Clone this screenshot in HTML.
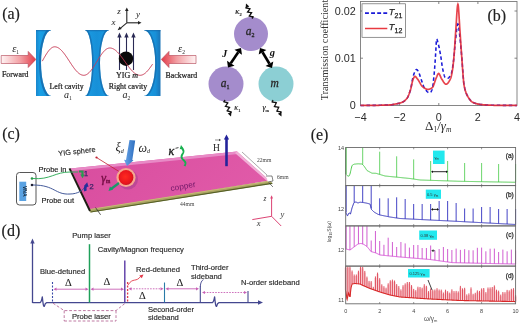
<!DOCTYPE html>
<html><head><meta charset="utf-8"><title>Figure</title>
<style>html,body{margin:0;padding:0;background:#fff;width:520px;height:323px;overflow:hidden} svg{display:block}</style>
</head><body>
<svg width="520" height="323" viewBox="0 0 520 323"><defs>
<linearGradient id="mir" x1="0" y1="0" x2="1" y2="0">
 <stop offset="0" stop-color="#1a9ce4"/><stop offset="0.5" stop-color="#1790d8"/><stop offset="1" stop-color="#1a9ce4"/>
</linearGradient>
<linearGradient id="mirL" x1="0" y1="0" x2="1" y2="0">
 <stop offset="0" stop-color="#1a86cc"/><stop offset="0.25" stop-color="#19a0e6"/><stop offset="1" stop-color="#1890d8"/>
</linearGradient>
<linearGradient id="mirR" x1="0" y1="0" x2="1" y2="0">
 <stop offset="0" stop-color="#19a0e6"/><stop offset="0.7" stop-color="#1890d8"/><stop offset="1" stop-color="#1a74b8"/>
</linearGradient>
<linearGradient id="arrR" x1="0" y1="0" x2="1" y2="0">
 <stop offset="0" stop-color="#fff4f4"/><stop offset="0.55" stop-color="#f2a0a4"/><stop offset="1" stop-color="#e23a48"/>
</linearGradient>
<linearGradient id="arrL" x1="1" y1="0" x2="0" y2="0">
 <stop offset="0" stop-color="#fff4f4"/><stop offset="0.55" stop-color="#f2a0a4"/><stop offset="1" stop-color="#e23a48"/>
</linearGradient>
<linearGradient id="plate" x1="0" y1="0" x2="1" y2="0.3">
 <stop offset="0" stop-color="#d84c9e"/><stop offset="1" stop-color="#e05aa8"/>
</linearGradient>
<radialGradient id="ball" cx="0.45" cy="0.45" r="0.6">
 <stop offset="0" stop-color="#ff2a20"/><stop offset="0.75" stop-color="#e8141c"/><stop offset="1" stop-color="#c01020"/>
</radialGradient>
<linearGradient id="pump" x1="0" y1="0" x2="1" y2="0">
 <stop offset="0" stop-color="#6aa6e8"/><stop offset="1" stop-color="#2e6fc0"/>
</linearGradient>
<clipPath id="cm1"><path d="M36,30 L51.4,30 A10.4 33 0 0 0 51.4,96 L36,96 Z"/></clipPath><clipPath id="cm2"><path d="M84.8,30 L109.2,30 A9.2 33 0 0 0 109.2,96 L84.8,96 A7.3 33 0 0 0 84.8,30 Z"/></clipPath><clipPath id="cm3"><path d="M143.7,30 L160.5,30 L160.5,96 L143.7,96 A11.5 33 0 0 0 143.7,30 Z"/></clipPath></defs><rect width="520" height="323" fill="#fff"/><text x="2.2" y="19.1" style="font-family:'Liberation Serif',serif;font-size:16px;fill:#222;stroke:#111;stroke-width:0.15" text-anchor="start">(a)</text>
<path d="M36,30 L51.4,30 A10.4 33 0 0 0 51.4,96 L36,96 Z" fill="url(#mirL)"/>
<g clip-path="url(#cm1)" fill="none" stroke="#1766a6"><path d="M51.4,30 A10.4 33 0 0 0 51.4,96" stroke-width="4" opacity="0.75"/><line x1="36" y1="30.6" x2="52" y2="30.6" stroke-width="1.4" opacity="0.6"/></g>
<path d="M84.8,30 L109.2,30 A9.2 33 0 0 0 109.2,96 L84.8,96 A7.3 33 0 0 0 84.8,30 Z" fill="url(#mir)"/>
<g clip-path="url(#cm2)" fill="none" stroke="#1766a6"><path d="M109.2,30 A9.2 33 0 0 0 109.2,96" stroke-width="3" opacity="0.7"/><path d="M84.8,96 A7.3 33 0 0 0 84.8,30" stroke-width="3" opacity="0.7"/><line x1="84" y1="30.6" x2="110" y2="30.6" stroke-width="1.4" opacity="0.6"/></g>
<path d="M143.7,30 L160.5,30 L160.5,96 L143.7,96 A11.5 33 0 0 0 143.7,30 Z" fill="url(#mirR)"/>
<g clip-path="url(#cm3)" fill="none" stroke="#1766a6"><path d="M143.7,96 A11.5 33 0 0 0 143.7,30" stroke-width="3" opacity="0.7"/><line x1="143" y1="30.6" x2="161" y2="30.6" stroke-width="1.4" opacity="0.6"/></g>
<path d="M1.2,55.5 L28.2,55.5 L28.2,51.4 L35.9,59.4 L28.2,67.5 L28.2,63.5 L1.2,63.5 Z" fill="url(#arrR)" stroke="#b04050" stroke-width="0.6"/>
<path d="M196,55.5 L169,55.5 L169,51.4 L161.3,59.4 L169,67.5 L169,63.5 L196,63.5 Z" fill="url(#arrL)" stroke="#b04050" stroke-width="0.6"/>
<text x="12.2" y="52.2" style="font-family:'Liberation Serif',serif;font-size:10.5px;fill:#222;" text-anchor="start"><tspan font-style="italic">ε</tspan><tspan font-size="5.5" dy="1.5">1</tspan></text>
<text x="178" y="52.2" style="font-family:'Liberation Serif',serif;font-size:10.5px;fill:#222;" text-anchor="start"><tspan font-style="italic">ε</tspan><tspan font-size="5.5" dy="1.5">2</tspan></text>
<text x="2" y="77" style="font-family:'Liberation Serif',serif;font-size:7.8px;fill:#222;stroke:#222;stroke-width:0.22" text-anchor="start">Forward</text>
<text x="165.6" y="78.4" style="font-family:'Liberation Serif',serif;font-size:7.8px;fill:#222;stroke:#222;stroke-width:0.22" text-anchor="start">Backward</text>
<text x="49.6" y="89.2" style="font-family:'Liberation Serif',serif;font-size:7.8px;fill:#222;stroke:#222;stroke-width:0.22" text-anchor="start">Left cavity</text>
<text x="64" y="98" style="font-family:'Liberation Serif',serif;font-size:10px;fill:#222;" text-anchor="start"><tspan font-style="italic">a</tspan><tspan font-size="5.5" dy="1.8">1</tspan></text>
<text x="108.8" y="88.9" style="font-family:'Liberation Serif',serif;font-size:7.8px;fill:#222;stroke:#222;stroke-width:0.22" text-anchor="start">Right cavity</text>
<text x="122.5" y="97.7" style="font-family:'Liberation Serif',serif;font-size:10px;fill:#222;" text-anchor="start"><tspan font-style="italic">a</tspan><tspan font-size="5.5" dy="1.8">2</tspan></text>
<line x1="119.5" y1="36" x2="119.5" y2="70" stroke="#2a2a55" stroke-width="1.1"/>
<path d="M117.3,37.5 L119.5,32.5 L121.7,37.5 Z" fill="#2a2a55"/>
<line x1="126.5" y1="36" x2="126.5" y2="70" stroke="#2a2a55" stroke-width="1.1"/>
<path d="M124.3,37.5 L126.5,32.5 L128.7,37.5 Z" fill="#2a2a55"/>
<line x1="133.5" y1="36" x2="133.5" y2="70" stroke="#2a2a55" stroke-width="1.1"/>
<path d="M131.3,37.5 L133.5,32.5 L135.7,37.5 Z" fill="#2a2a55"/>
<circle cx="126" cy="58.7" r="7.2" fill="#0a0a0a"/>
<path d="M42.30,61.14 L42.80,60.23 L43.31,59.32 L43.81,58.42 L44.31,57.53 L44.82,56.65 L45.32,55.80 L45.82,54.96 L46.33,54.15 L46.83,53.36 L47.33,52.61 L47.84,51.90 L48.34,51.22 L48.84,50.58 L49.34,49.98 L49.85,49.43 L50.35,48.92 L50.85,48.47 L51.36,48.07 L51.86,47.72 L52.36,47.42 L52.87,47.19 L53.37,47.00 L53.87,46.88 L54.38,46.81 L54.88,46.80 L55.38,46.84 L55.89,46.92 L56.39,47.04 L56.89,47.20 L57.40,47.40 L57.90,47.64 L58.40,47.92 L58.91,48.24 L59.41,48.60 L59.91,49.00 L60.42,49.43 L60.92,49.89 L61.42,50.39 L61.92,50.92 L62.43,51.48 L62.93,52.07 L63.43,52.68 L63.94,53.32 L64.44,53.98 L64.94,54.66 L65.45,55.36 L65.95,56.08 L66.45,56.81 L66.96,57.56 L67.46,58.31 L67.96,59.08 L68.47,59.85 L68.97,60.62 L69.47,61.39 L69.98,62.17 L70.48,62.94 L70.98,63.70 L71.49,64.46 L71.99,65.20 L72.49,65.94 L72.99,66.66 L73.50,67.36 L74.00,68.04 L74.50,68.71 L75.01,69.35 L75.51,69.97 L76.01,70.56 L76.52,71.12 L77.02,71.65 L77.52,72.15 L78.03,72.62 L78.53,73.06 L79.03,73.45 L79.54,73.82 L80.04,74.14 L80.54,74.43 L81.05,74.67 L81.55,74.88 L82.05,75.05 L82.56,75.17 L83.06,75.25 L83.56,75.30 L84.07,75.29 L84.57,75.24 L85.07,75.14 L85.57,74.99 L86.08,74.79 L86.58,74.54 L87.08,74.24 L87.59,73.90 L88.09,73.51 L88.59,73.07 L89.10,72.60 L89.60,72.08 L90.10,71.53 L90.61,70.94 L91.11,70.31 L91.61,69.66 L92.12,68.97 L92.62,68.26 L93.12,67.52 L93.63,66.76 L94.13,65.98 L94.63,65.18 L95.14,64.38 L95.64,63.56 L96.14,62.73 L96.65,61.91 L97.15,61.08 L97.65,60.25 L98.15,59.43 L98.66,58.61 L99.16,57.81 L99.66,57.02 L100.17,56.25 L100.67,55.50 L101.17,54.77 L101.68,54.06 L102.18,53.39 L102.68,52.74 L103.19,52.13 L103.69,51.55 L104.19,51.01 L104.70,50.51 L105.20,50.06 L105.70,49.64 L106.21,49.27 L106.71,48.94 L107.21,48.66 L107.72,48.43 L108.22,48.25 L108.72,48.12 L109.23,48.03 L109.73,48.00 L110.23,48.01 L110.73,48.06 L111.24,48.15 L111.74,48.28 L112.24,48.44 L112.75,48.63 L113.25,48.86 L113.75,49.13 L114.26,49.43 L114.76,49.77 L115.26,50.13 L115.77,50.53 L116.27,50.96 L116.77,51.41 L117.28,51.90 L117.78,52.41 L118.28,52.95 L118.79,53.51 L119.29,54.09 L119.79,54.69 L120.30,55.32 L120.80,55.95 L121.30,56.61 L121.81,57.28 L122.31,57.96 L122.81,58.65 L123.31,59.35 L123.82,60.05 L124.32,60.76 L124.82,61.47 L125.33,62.18 L125.83,62.89 L126.33,63.60 L126.84,64.30 L127.34,65.00 L127.84,65.68 L128.35,66.36 L128.85,67.02 L129.35,67.67 L129.86,68.30 L130.36,68.91 L130.86,69.50 L131.37,70.08 L131.87,70.62 L132.37,71.15 L132.88,71.65 L133.38,72.12 L133.88,72.56 L134.38,72.97 L134.89,73.36 L135.39,73.71 L135.89,74.02 L136.40,74.31 L136.90,74.56 L137.40,74.77 L137.91,74.95 L138.41,75.09 L138.91,75.20 L139.42,75.27 L139.92,75.30 L140.42,75.29 L140.93,75.24 L141.43,75.15 L141.93,75.02 L142.44,74.84 L142.94,74.62 L143.44,74.36 L143.95,74.07 L144.45,73.73 L144.95,73.35 L145.46,72.94 L145.96,72.49 L146.46,72.01 L146.96,71.50 L147.47,70.95 L147.97,70.38 L148.47,69.78 L148.98,69.15 L149.48,68.50 L149.98,67.83 L150.49,67.14 L150.99,66.43 L151.49,65.70 L152.00,64.97 L152.50,64.22" fill="none" stroke="#c83a55" stroke-width="1"/>
<text x="116" y="77.9" style="font-family:'Liberation Serif',serif;font-size:8px;fill:#222;stroke:#222;stroke-width:0.22" text-anchor="start">YIG <tspan font-style="italic">m</tspan></text>
<g stroke="#222" stroke-width="1.1" fill="none"><line x1="126.8" y1="22.8" x2="126.8" y2="10"/><line x1="126.8" y1="22.8" x2="139" y2="22.8"/><line x1="126.8" y1="22.8" x2="120" y2="28.6"/></g>
<g fill="#222"><path d="M125,11 L126.8,7.5 L128.6,11 Z"/><path d="M138,21 L141.5,22.8 L138,24.6 Z"/><path d="M119.6,26.6 L117.6,30.3 L121.7,29 Z"/></g>
<text x="117.3" y="13.5" style="font-family:'Liberation Serif',serif;font-size:9px;fill:#222;font-style:italic" text-anchor="start">z</text>
<text x="136" y="16.5" style="font-family:'Liberation Serif',serif;font-size:9px;fill:#222;font-style:italic" text-anchor="start">y</text>
<text x="111.5" y="24.5" style="font-family:'Liberation Serif',serif;font-size:9px;fill:#222;font-style:italic" text-anchor="start">x</text>
<circle cx="251" cy="34" r="17" fill="#a48ccc"/>
<circle cx="226" cy="84" r="17.5" fill="#a48ccc"/>
<circle cx="276" cy="84" r="17.5" fill="#8ccfd4"/>
<text x="245.8" y="35.3" style="font-family:'Liberation Serif',serif;font-size:11.5px;fill:#2a2a2a;stroke:#2a2a2a;stroke-width:0.3" text-anchor="start"><tspan font-style="italic">a</tspan><tspan font-size="6" dy="2">2</tspan></text>
<text x="220.8" y="86.8" style="font-family:'Liberation Serif',serif;font-size:11.5px;fill:#2a2a2a;stroke:#2a2a2a;stroke-width:0.3" text-anchor="start"><tspan font-style="italic">a</tspan><tspan font-size="6" dy="2">1</tspan></text>
<text x="270.5" y="86.8" style="font-family:'Liberation Serif',serif;font-size:11.5px;fill:#2a2a2a;stroke:#2a2a2a;stroke-width:0.3" text-anchor="start"><tspan font-style="italic">m</tspan></text>
<line x1="238.23" y1="52.16" x2="230.77" y2="63.34" stroke="#000" stroke-width="2.6"/><path d="M241.00,48.00 L234.48,49.66 L241.97,54.66 Z" fill="#000"/><path d="M228.00,67.50 L227.03,60.84 L234.52,65.84 Z" fill="#000"/>
<line x1="262.57" y1="52.29" x2="269.43" y2="63.71" stroke="#000" stroke-width="2.6"/><path d="M260.00,48.00 L258.71,54.60 L266.43,49.97 Z" fill="#000"/><path d="M272.00,68.00 L265.57,66.03 L273.29,61.40 Z" fill="#000"/>
<text x="222" y="57" style="font-family:'Liberation Serif',serif;font-size:10.5px;fill:#111;font-style:italic;font-weight:bold" text-anchor="start">J</text>
<text x="269.8" y="56" style="font-family:'Liberation Serif',serif;font-size:10.5px;fill:#111;font-style:italic;font-weight:bold" text-anchor="start">g</text>
<path d="M252.00,18.50 L252.19,18.24 L252.38,17.99 L252.58,17.73 L252.77,17.48 L252.96,17.22 L253.15,16.96 L253.13,16.79 L252.82,16.74 L252.50,16.69 L252.19,16.63 L251.87,16.58 L251.55,16.53 L251.24,16.47 L250.92,16.42 L250.61,16.37 L250.29,16.31 L249.98,16.26 L249.66,16.21 L249.34,16.15 L249.16,16.05 L249.35,15.79 L249.54,15.54 L249.73,15.28 L249.92,15.03 L250.12,14.77 L250.31,14.51 L250.50,14.26 L250.69,14.00 L250.88,13.75 L251.08,13.49 L251.27,13.23 L251.46,12.98 L251.61,12.74 L251.29,12.68 L250.98,12.63 L250.66,12.58 L250.35,12.53 L250.03,12.47 L249.71,12.42 L249.40,12.37 L249.08,12.31 L248.77,12.26 L248.45,12.21 L248.14,12.15 L247.82,12.10 L247.50,12.05 L247.65,11.81 L247.85,11.55 L248.04,11.30 L248.23,11.04 L248.42,10.78 L248.61,10.53 L248.81,10.27 L249.00,10.02 L249.19,9.76 L249.38,9.50 L249.57,9.25 L249.77,8.99 L249.96,8.73 L249.77,8.63 L249.45,8.58 L249.14,8.52 L248.82,8.47 L248.51,8.42 L248.19,8.37 L247.88,8.31 L247.56,8.26 L247.24,8.21 L246.93,8.15 L246.61,8.10 L246.30,8.05 L245.98,7.99 L245.96,7.82 L246.15,7.57 L246.35,7.31 L246.54,7.05 L246.73,6.80 L246.92,6.54 L247.11,6.29" fill="none" stroke="#111" stroke-width="1.3"/><path d="M246.00,3.50 L249.34,6.47 L245.63,7.96 Z" fill="#111"/>
<path d="M225.00,100.00 L224.81,100.27 L224.61,100.53 L224.42,100.80 L224.22,101.07 L224.03,101.33 L223.84,101.60 L223.86,101.79 L224.18,101.87 L224.50,101.95 L224.82,102.03 L225.14,102.11 L225.46,102.19 L225.78,102.27 L226.10,102.35 L226.42,102.43 L226.74,102.51 L227.06,102.59 L227.38,102.67 L227.70,102.75 L227.89,102.87 L227.69,103.14 L227.50,103.40 L227.30,103.67 L227.11,103.94 L226.92,104.20 L226.72,104.47 L226.53,104.74 L226.33,105.00 L226.14,105.27 L225.95,105.54 L225.75,105.80 L225.56,106.07 L225.41,106.32 L225.73,106.40 L226.05,106.48 L226.37,106.56 L226.69,106.64 L227.01,106.72 L227.33,106.80 L227.65,106.88 L227.97,106.96 L228.29,107.04 L228.61,107.12 L228.93,107.20 L229.25,107.28 L229.57,107.36 L229.42,107.61 L229.22,107.88 L229.03,108.14 L228.83,108.41 L228.64,108.68 L228.45,108.94 L228.25,109.21 L228.06,109.48 L227.86,109.74 L227.67,110.01 L227.48,110.28 L227.28,110.54 L227.09,110.81 L227.28,110.94 L227.60,111.02 L227.92,111.09 L228.24,111.17 L228.56,111.25 L228.88,111.33 L229.20,111.41 L229.52,111.49 L229.84,111.57 L230.16,111.65 L230.48,111.73 L230.80,111.81 L231.12,111.89 L231.14,112.08 L230.94,112.35 L230.75,112.61 L230.56,112.88 L230.36,113.15 L230.17,113.41 L229.97,113.68" fill="none" stroke="#111" stroke-width="1.3"/><path d="M231.00,116.50 L227.75,113.42 L231.51,112.06 Z" fill="#111"/>
<path d="M273.00,100.00 L272.85,100.30 L272.69,100.60 L272.54,100.90 L272.39,101.20 L272.24,101.50 L272.08,101.80 L272.13,102.00 L272.47,102.05 L272.80,102.10 L273.13,102.15 L273.47,102.20 L273.80,102.25 L274.13,102.30 L274.47,102.35 L274.80,102.40 L275.13,102.45 L275.47,102.50 L275.80,102.55 L276.13,102.60 L276.34,102.71 L276.19,103.01 L276.04,103.31 L275.88,103.61 L275.73,103.91 L275.58,104.21 L275.43,104.51 L275.27,104.81 L275.12,105.11 L274.97,105.41 L274.81,105.71 L274.66,106.01 L274.51,106.31 L274.40,106.59 L274.73,106.64 L275.06,106.69 L275.40,106.74 L275.73,106.79 L276.06,106.84 L276.40,106.89 L276.73,106.94 L277.06,106.99 L277.40,107.04 L277.73,107.09 L278.06,107.14 L278.40,107.19 L278.73,107.24 L278.62,107.52 L278.46,107.82 L278.31,108.12 L278.16,108.42 L278.01,108.72 L277.85,109.02 L277.70,109.32 L277.55,109.62 L277.39,109.92 L277.24,110.22 L277.09,110.52 L276.94,110.82 L276.78,111.12 L276.99,111.24 L277.33,111.29 L277.66,111.34 L277.99,111.39 L278.33,111.44 L278.66,111.49 L278.99,111.54 L279.33,111.59 L279.66,111.64 L279.99,111.69 L280.33,111.74 L280.66,111.79 L280.99,111.84 L281.04,112.03 L280.89,112.33 L280.74,112.63 L280.58,112.93 L280.43,113.23 L280.28,113.53 L280.13,113.83" fill="none" stroke="#111" stroke-width="1.3"/><path d="M281.50,116.50 L277.89,113.86 L281.45,112.03 Z" fill="#111"/>
<text x="235.3" y="14.2" style="font-family:'Liberation Serif',serif;font-size:8.5px;fill:#222;stroke:#222;stroke-width:0.2" text-anchor="start"><tspan font-style="italic">κ</tspan><tspan font-size="4.5" dy="2">2</tspan></text>
<text x="234.3" y="110" style="font-family:'Liberation Serif',serif;font-size:8px;fill:#222;stroke:#222;stroke-width:0.15" text-anchor="start"><tspan font-style="italic">κ</tspan><tspan font-size="4.5" dy="1.5">1</tspan></text>
<text x="262.4" y="110" style="font-family:'Liberation Serif',serif;font-size:8px;fill:#222;stroke:#222;stroke-width:0.15" text-anchor="start"><tspan font-style="italic">γ</tspan><tspan font-size="4.5" dy="1.5">m</tspan></text>
<rect x="360.5" y="1.5" width="156.5" height="104.0" fill="none" stroke="#7a7a7a" stroke-width="0.9"/>
<line x1="360.5" y1="58.2" x2="363.0" y2="58.2" stroke="#666" stroke-width="0.8"/><line x1="517" y1="58.2" x2="514.5" y2="58.2" stroke="#666" stroke-width="0.8"/>
<line x1="360.5" y1="11.0" x2="363.0" y2="11.0" stroke="#666" stroke-width="0.8"/><line x1="517" y1="11.0" x2="514.5" y2="11.0" stroke="#666" stroke-width="0.8"/>
<line x1="399.6" y1="1.5" x2="399.6" y2="4.0" stroke="#666" stroke-width="0.8"/><line x1="399.6" y1="105.5" x2="399.6" y2="103.0" stroke="#666" stroke-width="0.8"/>
<line x1="438.8" y1="1.5" x2="438.8" y2="4.0" stroke="#666" stroke-width="0.8"/><line x1="438.8" y1="105.5" x2="438.8" y2="103.0" stroke="#666" stroke-width="0.8"/>
<line x1="477.9" y1="1.5" x2="477.9" y2="4.0" stroke="#666" stroke-width="0.8"/><line x1="477.9" y1="105.5" x2="477.9" y2="103.0" stroke="#666" stroke-width="0.8"/>
<path d="M360.50,105.40 L360.72,105.40 L360.95,105.40 L361.17,105.40 L361.40,105.40 L361.62,105.40 L361.84,105.40 L362.07,105.40 L362.29,105.40 L362.52,105.40 L362.74,105.40 L362.96,105.40 L363.19,105.40 L363.41,105.40 L363.63,105.40 L363.86,105.40 L364.08,105.40 L364.31,105.40 L364.53,105.40 L364.75,105.40 L364.98,105.39 L365.20,105.39 L365.43,105.39 L365.65,105.39 L365.87,105.39 L366.10,105.39 L366.32,105.39 L366.55,105.39 L366.77,105.39 L366.99,105.39 L367.22,105.39 L367.44,105.39 L367.66,105.39 L367.89,105.39 L368.11,105.39 L368.34,105.38 L368.56,105.38 L368.78,105.38 L369.01,105.38 L369.23,105.38 L369.46,105.38 L369.68,105.38 L369.90,105.38 L370.13,105.38 L370.35,105.38 L370.58,105.37 L370.80,105.37 L371.02,105.37 L371.25,105.37 L371.47,105.37 L371.69,105.37 L371.92,105.37 L372.14,105.37 L372.37,105.37 L372.59,105.36 L372.81,105.36 L373.04,105.36 L373.26,105.36 L373.49,105.36 L373.71,105.36 L373.93,105.36 L374.16,105.36 L374.38,105.35 L374.61,105.35 L374.83,105.35 L375.05,105.35 L375.28,105.35 L375.50,105.35 L375.72,105.34 L375.95,105.34 L376.17,105.34 L376.40,105.34 L376.62,105.33 L376.84,105.33 L377.07,105.32 L377.29,105.32 L377.52,105.32 L377.74,105.31 L377.96,105.31 L378.19,105.30 L378.41,105.30 L378.64,105.29 L378.86,105.29 L379.08,105.28 L379.31,105.28 L379.53,105.27 L379.75,105.26 L379.98,105.26 L380.20,105.25 L380.43,105.24 L380.65,105.24 L380.87,105.23 L381.10,105.22 L381.32,105.22 L381.55,105.21 L381.77,105.20 L381.99,105.20 L382.22,105.19 L382.44,105.18 L382.67,105.18 L382.89,105.17 L383.11,105.16 L383.34,105.15 L383.56,105.15 L383.78,105.14 L384.01,105.13 L384.23,105.12 L384.46,105.12 L384.68,105.11 L384.90,105.10 L385.13,105.10 L385.35,105.09 L385.58,105.08 L385.80,105.08 L386.02,105.07 L386.25,105.06 L386.47,105.05 L386.70,105.05 L386.92,105.04 L387.14,105.03 L387.37,105.03 L387.59,105.02 L387.81,105.01 L388.04,105.00 L388.26,104.99 L388.49,104.98 L388.71,104.97 L388.93,104.96 L389.16,104.95 L389.38,104.94 L389.61,104.92 L389.83,104.91 L390.05,104.90 L390.28,104.88 L390.50,104.86 L390.73,104.84 L390.95,104.81 L391.17,104.78 L391.40,104.76 L391.62,104.72 L391.84,104.69 L392.07,104.65 L392.29,104.62 L392.52,104.58 L392.74,104.54 L392.96,104.50 L393.19,104.45 L393.41,104.41 L393.64,104.37 L393.86,104.32 L394.08,104.28 L394.31,104.24 L394.53,104.19 L394.76,104.15 L394.98,104.10 L395.20,104.06 L395.43,104.02 L395.65,103.98 L395.87,103.93 L396.10,103.89 L396.32,103.85 L396.55,103.81 L396.77,103.77 L396.99,103.72 L397.22,103.68 L397.44,103.63 L397.67,103.59 L397.89,103.54 L398.11,103.49 L398.34,103.45 L398.56,103.40 L398.79,103.34 L399.01,103.29 L399.23,103.24 L399.46,103.18 L399.68,103.12 L399.90,103.06 L400.13,102.99 L400.35,102.93 L400.58,102.86 L400.80,102.79 L401.02,102.72 L401.25,102.64 L401.47,102.56 L401.70,102.48 L401.92,102.39 L402.14,102.30 L402.37,102.20 L402.59,102.09 L402.82,101.98 L403.04,101.85 L403.26,101.72 L403.49,101.58 L403.71,101.43 L403.93,101.27 L404.16,101.10 L404.38,100.93 L404.61,100.74 L404.83,100.55 L405.05,100.35 L405.28,100.14 L405.50,99.92 L405.73,99.69 L405.95,99.46 L406.17,99.21 L406.40,98.96 L406.62,98.69 L406.85,98.42 L407.07,98.14 L407.29,97.84 L407.52,97.50 L407.74,97.12 L407.96,96.70 L408.19,96.25 L408.41,95.76 L408.64,95.24 L408.86,94.68 L409.08,94.10 L409.31,93.48 L409.53,92.84 L409.76,92.16 L409.98,91.47 L410.20,90.74 L410.43,89.99 L410.65,89.21 L410.88,88.29 L411.10,87.20 L411.32,86.00 L411.55,84.71 L411.77,83.40 L411.99,82.10 L412.22,80.86 L412.44,79.72 L412.67,78.71 L412.89,77.75 L413.11,76.81 L413.34,75.92 L413.56,75.10 L413.79,74.37 L414.01,73.78 L414.23,73.24 L414.46,72.71 L414.68,72.19 L414.91,71.68 L415.13,71.21 L415.35,70.78 L415.58,70.39 L415.80,70.06 L416.03,69.80 L416.25,69.62 L416.47,69.52 L416.70,69.51 L416.92,69.60 L417.14,69.77 L417.37,70.01 L417.59,70.32 L417.82,70.68 L418.04,71.08 L418.26,71.51 L418.49,71.96 L418.71,72.42 L418.94,72.87 L419.16,73.34 L419.38,73.91 L419.61,74.56 L419.83,75.26 L420.06,76.00 L420.28,76.75 L420.50,77.49 L420.73,78.21 L420.95,78.86 L421.17,79.48 L421.40,80.10 L421.62,80.73 L421.85,81.37 L422.07,82.01 L422.29,82.64 L422.52,83.27 L422.74,83.90 L422.97,84.51 L423.19,85.11 L423.41,85.69 L423.64,86.25 L423.86,86.78 L424.09,87.29 L424.31,87.76 L424.53,88.20 L424.76,88.60 L424.98,88.96 L425.20,89.28 L425.43,89.56 L425.65,89.83 L425.88,90.10 L426.10,90.36 L426.32,90.62 L426.55,90.88 L426.77,91.12 L427.00,91.36 L427.22,91.59 L427.44,91.80 L427.67,92.00 L427.89,92.18 L428.12,92.35 L428.34,92.49 L428.56,92.62 L428.79,92.72 L429.01,92.81 L429.23,92.86 L429.46,92.89 L429.68,92.90 L429.91,92.84 L430.13,92.73 L430.35,92.56 L430.58,92.34 L430.80,92.06 L431.03,91.74 L431.25,91.38 L431.47,90.97 L431.70,90.52 L431.92,90.04 L432.15,89.53 L432.37,88.87 L432.59,87.79 L432.82,86.37 L433.04,84.65 L433.26,82.71 L433.49,80.62 L433.71,78.43 L433.94,76.22 L434.16,73.95 L434.38,71.39 L434.61,68.57 L434.83,65.55 L435.06,62.39 L435.28,59.14 L435.50,55.86 L435.73,52.59 L435.95,48.45 L436.18,43.88 L436.40,40.28 L436.62,39.00 L436.85,39.17 L437.07,39.60 L437.29,40.21 L437.52,40.97 L437.74,41.82 L437.97,42.71 L438.19,43.59 L438.41,44.42 L438.64,45.31 L438.86,46.26 L439.09,47.27 L439.31,48.33 L439.53,49.44 L439.76,50.59 L439.98,51.79 L440.21,53.02 L440.43,54.28 L440.65,55.56 L440.88,56.87 L441.10,58.27 L441.32,59.87 L441.55,61.56 L441.77,63.28 L442.00,64.94 L442.22,66.45 L442.44,67.73 L442.67,68.80 L442.89,69.85 L443.12,70.90 L443.34,71.91 L443.56,72.88 L443.79,73.79 L444.01,74.63 L444.24,75.38 L444.46,76.04 L444.68,76.57 L444.91,76.98 L445.13,77.25 L445.35,77.39 L445.58,77.52 L445.80,77.65 L446.03,77.76 L446.25,77.86 L446.47,77.94 L446.70,78.02 L446.92,78.08 L447.15,78.13 L447.37,78.17 L447.59,78.19 L447.82,78.20 L448.04,78.17 L448.27,78.10 L448.49,77.97 L448.71,77.81 L448.94,77.61 L449.16,77.36 L449.38,77.09 L449.61,76.77 L449.83,76.43 L450.06,76.06 L450.28,75.66 L450.50,75.24 L450.73,74.80 L450.95,74.33 L451.18,73.85 L451.40,73.28 L451.62,72.51 L451.85,71.56 L452.07,70.45 L452.30,69.20 L452.52,67.84 L452.74,66.38 L452.97,64.84 L453.19,63.25 L453.41,61.62 L453.64,59.90 L453.86,57.84 L454.09,55.49 L454.31,52.95 L454.53,50.31 L454.76,47.67 L454.98,45.10 L455.21,42.71 L455.43,40.59 L455.65,38.71 L455.88,36.73 L456.10,34.71 L456.33,32.71 L456.55,30.77 L456.77,28.96 L457.00,27.35 L457.22,25.99 L457.44,24.93 L457.67,24.25 L457.89,24.00 L458.12,24.24 L458.34,24.95 L458.56,26.06 L458.79,27.51 L459.01,29.22 L459.24,31.13 L459.46,33.17 L459.68,35.28 L459.91,37.38 L460.13,39.41 L460.36,41.40 L460.58,43.60 L460.80,45.97 L461.03,48.47 L461.25,51.02 L461.47,53.59 L461.70,56.14 L461.92,58.92 L462.15,61.92 L462.37,65.06 L462.59,68.25 L462.82,71.43 L463.04,74.51 L463.27,77.42 L463.49,80.08 L463.71,82.42 L463.94,84.35 L464.16,85.81 L464.39,86.88 L464.61,87.87 L464.83,88.79 L465.06,89.66 L465.28,90.46 L465.51,91.20 L465.73,91.89 L465.95,92.53 L466.18,93.13 L466.40,93.68 L466.62,94.20 L466.85,94.69 L467.07,95.14 L467.30,95.58 L467.52,95.98 L467.74,96.38 L467.97,96.76 L468.19,97.13 L468.42,97.50 L468.64,97.85 L468.86,98.20 L469.09,98.54 L469.31,98.87 L469.54,99.18 L469.76,99.49 L469.98,99.79 L470.21,100.07 L470.43,100.34 L470.65,100.60 L470.88,100.85 L471.10,101.08 L471.33,101.30 L471.55,101.50 L471.77,101.69 L472.00,101.86 L472.22,102.02 L472.45,102.16 L472.67,102.29 L472.89,102.40 L473.12,102.50 L473.34,102.59 L473.57,102.68 L473.79,102.78 L474.01,102.86 L474.24,102.95 L474.46,103.03 L474.68,103.12 L474.91,103.19 L475.13,103.27 L475.36,103.35 L475.58,103.42 L475.80,103.49 L476.03,103.56 L476.25,103.62 L476.48,103.69 L476.70,103.75 L476.92,103.81 L477.15,103.87 L477.37,103.92 L477.60,103.97 L477.82,104.03 L478.04,104.08 L478.27,104.12 L478.49,104.17 L478.71,104.21 L478.94,104.25 L479.16,104.29 L479.39,104.33 L479.61,104.37 L479.83,104.40 L480.06,104.43 L480.28,104.46 L480.51,104.49 L480.73,104.52 L480.95,104.55 L481.18,104.57 L481.40,104.59 L481.63,104.61 L481.85,104.63 L482.07,104.65 L482.30,104.67 L482.52,104.69 L482.74,104.71 L482.97,104.73 L483.19,104.75 L483.42,104.76 L483.64,104.78 L483.86,104.80 L484.09,104.82 L484.31,104.83 L484.54,104.85 L484.76,104.87 L484.98,104.88 L485.21,104.90 L485.43,104.92 L485.66,104.93 L485.88,104.95 L486.10,104.96 L486.33,104.98 L486.55,104.99 L486.77,105.00 L487.00,105.02 L487.22,105.03 L487.45,105.04 L487.67,105.06 L487.89,105.07 L488.12,105.08 L488.34,105.09 L488.57,105.10 L488.79,105.12 L489.01,105.13 L489.24,105.14 L489.46,105.15 L489.69,105.16 L489.91,105.17 L490.13,105.18 L490.36,105.19 L490.58,105.19 L490.80,105.20 L491.03,105.21 L491.25,105.22 L491.48,105.23 L491.70,105.23 L491.92,105.24 L492.15,105.25 L492.37,105.25 L492.60,105.26 L492.82,105.26 L493.04,105.27 L493.27,105.27 L493.49,105.28 L493.72,105.28 L493.94,105.29 L494.16,105.29 L494.39,105.29 L494.61,105.30 L494.83,105.30 L495.06,105.30 L495.28,105.30 L495.51,105.30 L495.73,105.31 L495.95,105.31 L496.18,105.31 L496.40,105.31 L496.63,105.31 L496.85,105.32 L497.07,105.32 L497.30,105.32 L497.52,105.32 L497.75,105.32 L497.97,105.32 L498.19,105.33 L498.42,105.33 L498.64,105.33 L498.86,105.33 L499.09,105.33 L499.31,105.33 L499.54,105.34 L499.76,105.34 L499.98,105.34 L500.21,105.34 L500.43,105.34 L500.66,105.34 L500.88,105.35 L501.10,105.35 L501.33,105.35 L501.55,105.35 L501.78,105.35 L502.00,105.35 L502.22,105.35 L502.45,105.36 L502.67,105.36 L502.89,105.36 L503.12,105.36 L503.34,105.36 L503.57,105.36 L503.79,105.36 L504.01,105.36 L504.24,105.37 L504.46,105.37 L504.69,105.37 L504.91,105.37 L505.13,105.37 L505.36,105.37 L505.58,105.37 L505.81,105.37 L506.03,105.37 L506.25,105.38 L506.48,105.38 L506.70,105.38 L506.92,105.38 L507.15,105.38 L507.37,105.38 L507.60,105.38 L507.82,105.38 L508.04,105.38 L508.27,105.38 L508.49,105.38 L508.72,105.39 L508.94,105.39 L509.16,105.39 L509.39,105.39 L509.61,105.39 L509.84,105.39 L510.06,105.39 L510.28,105.39 L510.51,105.39 L510.73,105.39 L510.95,105.39 L511.18,105.39 L511.40,105.39 L511.63,105.39 L511.85,105.39 L512.07,105.39 L512.30,105.40 L512.52,105.40 L512.75,105.40 L512.97,105.40 L513.19,105.40 L513.42,105.40 L513.64,105.40 L513.87,105.40 L514.09,105.40 L514.31,105.40 L514.54,105.40 L514.76,105.40 L514.98,105.40 L515.21,105.40 L515.43,105.40 L515.66,105.40 L515.88,105.40 L516.10,105.40 L516.33,105.40 L516.55,105.40 L516.78,105.40 L517.00,105.40" fill="none" stroke="#1a1ad8" stroke-width="1.55" stroke-dasharray="3.5,2.5"/>
<path d="M360.50,105.40 L360.72,105.40 L360.95,105.40 L361.17,105.40 L361.40,105.40 L361.62,105.40 L361.84,105.40 L362.07,105.40 L362.29,105.40 L362.52,105.40 L362.74,105.40 L362.96,105.40 L363.19,105.40 L363.41,105.40 L363.63,105.40 L363.86,105.40 L364.08,105.40 L364.31,105.40 L364.53,105.40 L364.75,105.40 L364.98,105.39 L365.20,105.39 L365.43,105.39 L365.65,105.39 L365.87,105.39 L366.10,105.39 L366.32,105.39 L366.55,105.39 L366.77,105.39 L366.99,105.39 L367.22,105.39 L367.44,105.39 L367.66,105.39 L367.89,105.39 L368.11,105.39 L368.34,105.38 L368.56,105.38 L368.78,105.38 L369.01,105.38 L369.23,105.38 L369.46,105.38 L369.68,105.38 L369.90,105.38 L370.13,105.38 L370.35,105.38 L370.58,105.37 L370.80,105.37 L371.02,105.37 L371.25,105.37 L371.47,105.37 L371.69,105.37 L371.92,105.37 L372.14,105.37 L372.37,105.37 L372.59,105.36 L372.81,105.36 L373.04,105.36 L373.26,105.36 L373.49,105.36 L373.71,105.36 L373.93,105.36 L374.16,105.36 L374.38,105.35 L374.61,105.35 L374.83,105.35 L375.05,105.35 L375.28,105.35 L375.50,105.35 L375.72,105.34 L375.95,105.34 L376.17,105.34 L376.40,105.34 L376.62,105.33 L376.84,105.33 L377.07,105.32 L377.29,105.32 L377.52,105.32 L377.74,105.31 L377.96,105.31 L378.19,105.30 L378.41,105.30 L378.64,105.29 L378.86,105.29 L379.08,105.28 L379.31,105.28 L379.53,105.27 L379.75,105.26 L379.98,105.26 L380.20,105.25 L380.43,105.24 L380.65,105.24 L380.87,105.23 L381.10,105.22 L381.32,105.22 L381.55,105.21 L381.77,105.20 L381.99,105.20 L382.22,105.19 L382.44,105.18 L382.67,105.18 L382.89,105.17 L383.11,105.16 L383.34,105.15 L383.56,105.15 L383.78,105.14 L384.01,105.13 L384.23,105.12 L384.46,105.12 L384.68,105.11 L384.90,105.10 L385.13,105.10 L385.35,105.09 L385.58,105.08 L385.80,105.08 L386.02,105.07 L386.25,105.06 L386.47,105.05 L386.70,105.05 L386.92,105.04 L387.14,105.03 L387.37,105.03 L387.59,105.02 L387.81,105.01 L388.04,105.00 L388.26,104.99 L388.49,104.98 L388.71,104.97 L388.93,104.96 L389.16,104.95 L389.38,104.94 L389.61,104.92 L389.83,104.91 L390.05,104.90 L390.28,104.88 L390.50,104.86 L390.73,104.84 L390.95,104.81 L391.17,104.78 L391.40,104.76 L391.62,104.72 L391.84,104.69 L392.07,104.65 L392.29,104.62 L392.52,104.58 L392.74,104.54 L392.96,104.50 L393.19,104.45 L393.41,104.41 L393.64,104.37 L393.86,104.32 L394.08,104.28 L394.31,104.24 L394.53,104.19 L394.76,104.15 L394.98,104.10 L395.20,104.06 L395.43,104.02 L395.65,103.98 L395.87,103.93 L396.10,103.89 L396.32,103.85 L396.55,103.81 L396.77,103.77 L396.99,103.72 L397.22,103.68 L397.44,103.63 L397.67,103.59 L397.89,103.54 L398.11,103.49 L398.34,103.45 L398.56,103.40 L398.79,103.34 L399.01,103.29 L399.23,103.24 L399.46,103.18 L399.68,103.12 L399.90,103.06 L400.13,102.99 L400.35,102.93 L400.58,102.86 L400.80,102.79 L401.02,102.72 L401.25,102.64 L401.47,102.56 L401.70,102.48 L401.92,102.39 L402.14,102.30 L402.37,102.20 L402.59,102.09 L402.82,101.98 L403.04,101.85 L403.26,101.72 L403.49,101.58 L403.71,101.43 L403.93,101.27 L404.16,101.10 L404.38,100.93 L404.61,100.74 L404.83,100.55 L405.05,100.35 L405.28,100.14 L405.50,99.92 L405.73,99.69 L405.95,99.46 L406.17,99.21 L406.40,98.96 L406.62,98.69 L406.85,98.42 L407.07,98.14 L407.29,97.83 L407.52,97.48 L407.74,97.08 L407.96,96.64 L408.19,96.16 L408.41,95.64 L408.64,95.10 L408.86,94.52 L409.08,93.92 L409.31,93.29 L409.53,92.64 L409.76,91.98 L409.98,91.31 L410.20,90.62 L410.43,89.93 L410.65,89.24 L410.88,88.45 L411.10,87.55 L411.32,86.58 L411.55,85.55 L411.77,84.50 L411.99,83.45 L412.22,82.43 L412.44,81.46 L412.67,80.59 L412.89,79.82 L413.11,79.20 L413.34,78.70 L413.56,78.21 L413.79,77.75 L414.01,77.32 L414.23,76.94 L414.46,76.65 L414.68,76.47 L414.91,76.40 L415.13,76.44 L415.35,76.53 L415.58,76.68 L415.80,76.88 L416.03,77.11 L416.25,77.38 L416.47,77.66 L416.70,77.96 L416.92,78.26 L417.14,78.56 L417.37,78.84 L417.59,79.11 L417.82,79.40 L418.04,79.71 L418.26,80.04 L418.49,80.38 L418.71,80.75 L418.94,81.12 L419.16,81.51 L419.38,81.90 L419.61,82.30 L419.83,82.70 L420.06,83.10 L420.28,83.49 L420.50,83.88 L420.73,84.26 L420.95,84.63 L421.17,84.98 L421.40,85.32 L421.62,85.63 L421.85,85.93 L422.07,86.20 L422.29,86.44 L422.52,86.65 L422.74,86.83 L422.97,87.00 L423.19,87.17 L423.41,87.33 L423.64,87.50 L423.86,87.66 L424.09,87.81 L424.31,87.97 L424.53,88.12 L424.76,88.26 L424.98,88.40 L425.20,88.53 L425.43,88.66 L425.65,88.78 L425.88,88.89 L426.10,88.99 L426.32,89.08 L426.55,89.16 L426.77,89.23 L427.00,89.29 L427.22,89.34 L427.44,89.37 L427.67,89.39 L427.89,89.40 L428.12,89.39 L428.34,89.38 L428.56,89.35 L428.79,89.31 L429.01,89.26 L429.23,89.20 L429.46,89.14 L429.68,89.06 L429.91,88.97 L430.13,88.88 L430.35,88.78 L430.58,88.67 L430.80,88.56 L431.03,88.43 L431.25,88.30 L431.47,88.17 L431.70,88.03 L431.92,87.89 L432.15,87.74 L432.37,87.56 L432.59,87.30 L432.82,86.97 L433.04,86.56 L433.26,86.10 L433.49,85.58 L433.71,85.02 L433.94,84.41 L434.16,83.78 L434.38,83.13 L434.61,82.46 L434.83,81.78 L435.06,81.11 L435.28,80.44 L435.50,79.79 L435.73,79.17 L435.95,78.57 L436.18,78.02 L436.40,77.51 L436.62,77.04 L436.85,76.53 L437.07,75.99 L437.29,75.45 L437.52,74.94 L437.74,74.46 L437.97,74.06 L438.19,73.75 L438.41,73.55 L438.64,73.50 L438.86,73.58 L439.09,73.77 L439.31,74.05 L439.53,74.41 L439.76,74.83 L439.98,75.31 L440.21,75.81 L440.43,76.34 L440.65,76.87 L440.88,77.40 L441.10,77.90 L441.32,78.36 L441.55,78.76 L441.77,79.11 L442.00,79.44 L442.22,79.79 L442.44,80.15 L442.67,80.52 L442.89,80.88 L443.12,81.25 L443.34,81.60 L443.56,81.95 L443.79,82.29 L444.01,82.61 L444.24,82.91 L444.46,83.19 L444.68,83.44 L444.91,83.66 L445.13,83.85 L445.35,84.00 L445.58,84.11 L445.80,84.18 L446.03,84.20 L446.25,84.18 L446.47,84.12 L446.70,84.03 L446.92,83.91 L447.15,83.76 L447.37,83.59 L447.59,83.38 L447.82,83.15 L448.04,82.89 L448.27,82.61 L448.49,82.30 L448.71,81.98 L448.94,81.64 L449.16,81.27 L449.38,80.90 L449.61,80.50 L449.83,80.09 L450.06,79.67 L450.28,79.24 L450.50,78.78 L450.73,78.20 L450.95,77.51 L451.18,76.69 L451.40,75.77 L451.62,74.75 L451.85,73.64 L452.07,72.46 L452.30,71.20 L452.52,69.88 L452.74,68.38 L452.97,66.61 L453.19,64.63 L453.41,62.45 L453.64,60.12 L453.86,57.68 L454.09,55.15 L454.31,52.41 L454.53,49.29 L454.76,45.93 L454.98,42.41 L455.21,38.85 L455.43,35.35 L455.65,32.03 L455.88,28.93 L456.10,25.60 L456.33,22.02 L456.55,18.36 L456.77,14.80 L457.00,11.50 L457.22,8.63 L457.44,6.36 L457.67,4.86 L457.89,4.30 L458.12,4.85 L458.34,6.45 L458.56,8.90 L458.79,11.99 L459.01,15.53 L459.24,19.31 L459.46,23.14 L459.68,26.80 L459.91,30.11 L460.13,33.28 L460.36,36.59 L460.58,39.99 L460.80,43.42 L461.03,46.82 L461.25,50.13 L461.47,53.31 L461.70,56.33 L461.92,59.43 L462.15,62.62 L462.37,65.83 L462.59,69.02 L462.82,72.13 L463.04,75.09 L463.27,77.86 L463.49,80.37 L463.71,82.57 L463.94,84.40 L464.16,85.81 L464.39,86.88 L464.61,87.87 L464.83,88.79 L465.06,89.66 L465.28,90.46 L465.51,91.20 L465.73,91.89 L465.95,92.53 L466.18,93.13 L466.40,93.68 L466.62,94.20 L466.85,94.69 L467.07,95.14 L467.30,95.58 L467.52,95.98 L467.74,96.38 L467.97,96.76 L468.19,97.13 L468.42,97.50 L468.64,97.85 L468.86,98.20 L469.09,98.54 L469.31,98.87 L469.54,99.18 L469.76,99.49 L469.98,99.79 L470.21,100.07 L470.43,100.34 L470.65,100.60 L470.88,100.85 L471.10,101.08 L471.33,101.30 L471.55,101.50 L471.77,101.69 L472.00,101.86 L472.22,102.02 L472.45,102.16 L472.67,102.29 L472.89,102.40 L473.12,102.50 L473.34,102.59 L473.57,102.68 L473.79,102.78 L474.01,102.86 L474.24,102.95 L474.46,103.03 L474.68,103.12 L474.91,103.19 L475.13,103.27 L475.36,103.35 L475.58,103.42 L475.80,103.49 L476.03,103.56 L476.25,103.62 L476.48,103.69 L476.70,103.75 L476.92,103.81 L477.15,103.87 L477.37,103.92 L477.60,103.97 L477.82,104.03 L478.04,104.08 L478.27,104.12 L478.49,104.17 L478.71,104.21 L478.94,104.25 L479.16,104.29 L479.39,104.33 L479.61,104.37 L479.83,104.40 L480.06,104.43 L480.28,104.46 L480.51,104.49 L480.73,104.52 L480.95,104.55 L481.18,104.57 L481.40,104.59 L481.63,104.61 L481.85,104.63 L482.07,104.65 L482.30,104.67 L482.52,104.69 L482.74,104.71 L482.97,104.73 L483.19,104.75 L483.42,104.76 L483.64,104.78 L483.86,104.80 L484.09,104.82 L484.31,104.83 L484.54,104.85 L484.76,104.87 L484.98,104.88 L485.21,104.90 L485.43,104.92 L485.66,104.93 L485.88,104.95 L486.10,104.96 L486.33,104.98 L486.55,104.99 L486.77,105.00 L487.00,105.02 L487.22,105.03 L487.45,105.04 L487.67,105.06 L487.89,105.07 L488.12,105.08 L488.34,105.09 L488.57,105.10 L488.79,105.12 L489.01,105.13 L489.24,105.14 L489.46,105.15 L489.69,105.16 L489.91,105.17 L490.13,105.18 L490.36,105.19 L490.58,105.19 L490.80,105.20 L491.03,105.21 L491.25,105.22 L491.48,105.23 L491.70,105.23 L491.92,105.24 L492.15,105.25 L492.37,105.25 L492.60,105.26 L492.82,105.26 L493.04,105.27 L493.27,105.27 L493.49,105.28 L493.72,105.28 L493.94,105.29 L494.16,105.29 L494.39,105.29 L494.61,105.30 L494.83,105.30 L495.06,105.30 L495.28,105.30 L495.51,105.30 L495.73,105.31 L495.95,105.31 L496.18,105.31 L496.40,105.31 L496.63,105.31 L496.85,105.32 L497.07,105.32 L497.30,105.32 L497.52,105.32 L497.75,105.32 L497.97,105.32 L498.19,105.33 L498.42,105.33 L498.64,105.33 L498.86,105.33 L499.09,105.33 L499.31,105.33 L499.54,105.34 L499.76,105.34 L499.98,105.34 L500.21,105.34 L500.43,105.34 L500.66,105.34 L500.88,105.35 L501.10,105.35 L501.33,105.35 L501.55,105.35 L501.78,105.35 L502.00,105.35 L502.22,105.35 L502.45,105.36 L502.67,105.36 L502.89,105.36 L503.12,105.36 L503.34,105.36 L503.57,105.36 L503.79,105.36 L504.01,105.36 L504.24,105.37 L504.46,105.37 L504.69,105.37 L504.91,105.37 L505.13,105.37 L505.36,105.37 L505.58,105.37 L505.81,105.37 L506.03,105.37 L506.25,105.38 L506.48,105.38 L506.70,105.38 L506.92,105.38 L507.15,105.38 L507.37,105.38 L507.60,105.38 L507.82,105.38 L508.04,105.38 L508.27,105.38 L508.49,105.38 L508.72,105.39 L508.94,105.39 L509.16,105.39 L509.39,105.39 L509.61,105.39 L509.84,105.39 L510.06,105.39 L510.28,105.39 L510.51,105.39 L510.73,105.39 L510.95,105.39 L511.18,105.39 L511.40,105.39 L511.63,105.39 L511.85,105.39 L512.07,105.39 L512.30,105.40 L512.52,105.40 L512.75,105.40 L512.97,105.40 L513.19,105.40 L513.42,105.40 L513.64,105.40 L513.87,105.40 L514.09,105.40 L514.31,105.40 L514.54,105.40 L514.76,105.40 L514.98,105.40 L515.21,105.40 L515.43,105.40 L515.66,105.40 L515.88,105.40 L516.10,105.40 L516.33,105.40 L516.55,105.40 L516.78,105.40 L517.00,105.40" fill="none" stroke="#e42a34" stroke-width="1.7" stroke-opacity="0.88"/>
<text x="355.8" y="14.9" style="font-family:'Liberation Sans',sans-serif;font-size:10.8px;fill:#2a2a2a;" text-anchor="end">0.02</text>
<text x="355.8" y="62.15" style="font-family:'Liberation Sans',sans-serif;font-size:10.8px;fill:#2a2a2a;" text-anchor="end">0.01</text>
<text x="355.8" y="109.4" style="font-family:'Liberation Sans',sans-serif;font-size:10.8px;fill:#2a2a2a;" text-anchor="end">0</text>
<text x="360.51" y="120.6" style="font-family:'Liberation Sans',sans-serif;font-size:10.8px;fill:#2a2a2a;" text-anchor="middle">−4</text>
<text x="399.63" y="120.6" style="font-family:'Liberation Sans',sans-serif;font-size:10.8px;fill:#2a2a2a;" text-anchor="middle">−2</text>
<text x="438.75" y="120.6" style="font-family:'Liberation Sans',sans-serif;font-size:10.8px;fill:#2a2a2a;" text-anchor="middle">0</text>
<text x="477.87" y="120.6" style="font-family:'Liberation Sans',sans-serif;font-size:10.8px;fill:#2a2a2a;" text-anchor="middle">2</text>
<text x="516.99" y="120.6" style="font-family:'Liberation Sans',sans-serif;font-size:10.8px;fill:#2a2a2a;" text-anchor="middle">4</text>
<text transform="translate(327.5,50) rotate(-90)" text-anchor="middle" style="font-family:'Liberation Serif',serif;font-size:10.2px;fill:#333">Transmission coefficient</text>
<text x="425" y="129.5" style="font-family:'Liberation Serif',serif;font-size:13px;fill:#2a2a2a;" text-anchor="start">Δ<tspan font-size="7.5" dy="2">1</tspan><tspan dy="-2">/</tspan><tspan font-style="italic">γ</tspan><tspan font-size="7.5" dy="2" font-style="italic">m</tspan></text>
<rect x="362" y="3.8" width="43.4" height="33.5" fill="#fff" stroke="#666" stroke-width="0.7"/>
<line x1="365" y1="13.2" x2="387.3" y2="13.2" stroke="#1a1ad8" stroke-width="1.8" stroke-dasharray="3.9,2.2"/>
<line x1="365" y1="28.5" x2="387.3" y2="28.5" stroke="#e83a40" stroke-width="1.5"/>
<text x="388.8" y="14.8" style="font-family:'Liberation Sans',sans-serif;font-size:9.3px;fill:#222;stroke:#222;stroke-width:0.25" text-anchor="start"><tspan font-style="italic">T</tspan><tspan font-size="7" dy="3.6">21</tspan></text>
<text x="388.8" y="29.6" style="font-family:'Liberation Sans',sans-serif;font-size:9.3px;fill:#222;stroke:#222;stroke-width:0.25" text-anchor="start"><tspan font-style="italic">T</tspan><tspan font-size="7" dy="3.6">12</tspan></text>
<text x="487.5" y="21.1" style="font-family:'Liberation Serif',serif;font-size:16px;fill:#222;stroke:#111;stroke-width:0.15" text-anchor="start">(b)</text>
<text x="2.2" y="139.2" style="font-family:'Liberation Serif',serif;font-size:16px;fill:#222;stroke:#111;stroke-width:0.15" text-anchor="start">(c)</text>
<path d="M88,208 L270,180.5 L272.5,183.6 L90.5,212.6 Z" fill="#a8a460"/><line x1="90.5" y1="212" x2="272.3" y2="183.3" stroke="#566028" stroke-width="1.2"/>
<path d="M70.4,168.5 L237,151.5 L269.5,180.5 L89,209.5 Z" fill="url(#plate)"/>
<path d="M70.4,168.5 L237,151.5 L238.5,154 L72,171 Z" fill="#e88ac6"/>
<path d="M237,151.5 L269.5,180.5 L267,181 L235,153 Z" fill="#f0b0d6"/>
<line x1="89" y1="209.6" x2="270" y2="181.2" stroke="#c9b878" stroke-width="1"/>
<line x1="69.5" y1="168.4" x2="90" y2="211" stroke="#1e1e14" stroke-width="1.9"/><line x1="95.5" y1="207.5" x2="100.6" y2="214.8" stroke="#333" stroke-width="0.8"/>
<line x1="242" y1="152" x2="267" y2="175" stroke="#555" stroke-width="0.5"/>
<rect x="16.5" y="172.5" width="19.5" height="32.5" rx="3" fill="#fff" stroke="#444" stroke-width="0.9"/>
<rect x="19.3" y="181.7" width="6.9" height="19.3" fill="#5aa2e2"/>
<text transform="translate(22.6,191.3) rotate(90)" text-anchor="middle" style="font-family:'Liberation Sans',sans-serif;font-size:5px;fill:#123;font-weight:bold">VNA</text>
<circle cx="32" cy="178.5" r="1.3" fill="#2a9a4a"/><circle cx="32" cy="185" r="1.3" fill="#223"/>
<path d="M33,178.5 C50,180 55,172 70,172 L78,172" fill="none" stroke="#3ab060" stroke-width="1"/>
<path d="M33,185 C55,185 55,195 70,194 C78,194 83,190 85,187" fill="none" stroke="#445a9a" stroke-width="1"/>
<path d="M79,171.5 L82.5,171.5 L82.5,175" fill="none" stroke="#2a9a50" stroke-width="2.2"/><path d="M80.3,174.5 L84.7,174.5 L82.5,178.3 Z" fill="#2a9a50"/>
<path d="M85.5,191 Q84.3,188 86.3,185.5" fill="none" stroke="#26309a" stroke-width="2.6"/><path d="M84,186 L87.2,182.3 L88.6,187 Z" fill="#26309a"/>
<text x="84" y="176" style="font-family:'Liberation Sans',sans-serif;font-size:7.2px;fill:#3a2266;stroke:#3a2266;stroke-width:0.25" text-anchor="start">1</text>
<text x="89.4" y="188.6" style="font-family:'Liberation Sans',sans-serif;font-size:7.5px;fill:#3a2266;stroke:#3a2266;stroke-width:0.25" text-anchor="start">2</text>
<text x="38.5" y="172" style="font-family:'Liberation Sans',sans-serif;font-size:7.5px;fill:#222;stroke:#222;stroke-width:0.15" text-anchor="start">Probe in</text>
<text x="41.5" y="203.3" style="font-family:'Liberation Sans',sans-serif;font-size:7.5px;fill:#222;stroke:#222;stroke-width:0.15" text-anchor="start">Probe out</text>
<text transform="translate(58.6,156) rotate(-6.5)" style="font-family:'Liberation Sans',sans-serif;font-size:7.3px;letter-spacing:0.05px;fill:#2a2a2a;stroke:#2a2a2a;stroke-width:0.15">YIG sphere</text>
<line x1="96.5" y1="157.5" x2="119" y2="171.5" stroke="#c02030" stroke-width="0.8"/><circle cx="96.5" cy="157.5" r="1.1" fill="#c02030"/>
<circle cx="128" cy="179.5" r="10" fill="#9a3a8a" opacity="0.45"/><circle cx="126" cy="177.5" r="9.6" fill="#f6a890"/>
<circle cx="126" cy="177.5" r="7.4" fill="url(#ball)"/>
<path d="M119,183 L111,189" stroke="#1a9a6a" stroke-width="2.2"/><path d="M108.5,191 L110,186.5 L113,189.8 Z" fill="#1a9a6a"/>
<text x="101.2" y="181.6" style="font-family:'Liberation Serif',serif;font-size:12px;fill:#7a1048;stroke:#7a1048;stroke-width:0.45" text-anchor="start"><tspan font-style="italic">γ</tspan><tspan font-size="5.5" dy="1.5">m</tspan></text>
<path d="M129.5,140 L135.2,140.5 L132.3,160 L133.5,160.3 L127,166 L124,159.8 L126,160 Z" fill="url(#pump)"/>
<text x="115.5" y="151" style="font-family:'Liberation Serif',serif;font-size:12.5px;fill:#222;" text-anchor="start"><tspan font-style="italic">ξ</tspan><tspan font-size="6" dy="1.5" font-style="italic">d</tspan></text>
<text x="138.5" y="151.5" style="font-family:'Liberation Serif',serif;font-size:12px;fill:#222;" text-anchor="start"><tspan font-style="italic">ω</tspan><tspan font-size="6" dy="1.5" font-style="italic">d</tspan></text>
<path d="M184.50,166.00 L184.63,165.74 L184.75,165.49 L184.87,165.23 L184.98,164.98 L185.09,164.73 L185.18,164.48 L185.26,164.23 L185.32,163.99 L185.37,163.74 L185.40,163.50 L185.42,163.27 L185.41,163.03 L185.39,162.80 L185.34,162.57 L185.28,162.35 L185.19,162.13 L185.09,161.91 L184.97,161.70 L184.84,161.48 L184.69,161.27 L184.52,161.07 L184.35,160.86 L184.16,160.66 L183.97,160.46 L183.77,160.25 L183.57,160.05 L183.36,159.85 L183.16,159.65 L182.96,159.45 L182.77,159.25 L182.59,159.04 L182.42,158.84 L182.26,158.63 L182.11,158.42 L181.98,158.21 L181.87,157.99 L181.77,157.77 L181.69,157.55 L181.64,157.32 L181.60,157.10 L181.58,156.86 L181.58,156.63 L181.60,156.39 L181.64,156.15 L181.69,155.91 L181.76,155.66 L181.85,155.41 L181.94,155.16 L182.05,154.91 L182.17,154.65 L182.29,154.40 L182.41,154.14 L182.54,153.89 L182.66,153.63 L182.79,153.38 L182.90,153.12 L183.01,152.87 L183.11,152.62 L183.20,152.37 L183.28,152.12 L183.34,151.88 L183.38,151.63 L183.40,151.40 L183.41,151.16 L183.40,150.93 L183.37,150.70 L183.32,150.47 L183.25,150.25 L183.16,150.03 L183.05,149.81 L182.92,149.60 L182.78,149.39 L182.63,149.18 L182.46,148.97 L182.28,148.77 L182.09,148.56 L181.90,148.36 L181.70,148.16 L181.49,147.96" fill="none" stroke="#18b050" stroke-width="2"/><path d="M181.00,145.00 L183.63,148.62 L179.68,149.27 Z" fill="#18b050"/>
<text x="168.5" y="154.6" style="font-family:'Liberation Serif',serif;font-size:12px;fill:#1a1a1a;stroke:#1a1a1a;stroke-width:0.35" text-anchor="start"><tspan font-style="italic">κ</tspan></text>
<path d="M175.5,148.3 L178.5,147.6" stroke="#333" stroke-width="0.9"/>
<line x1="226.5" y1="139" x2="226.5" y2="166.2" stroke="#23239a" stroke-width="2.6"/><path d="M223.9,139.5 L226.5,134.5 L229.1,139.5 Z" fill="#23239a"/>
<text x="213" y="151" style="font-family:'Liberation Serif',serif;font-size:9.5px;fill:#222;" text-anchor="start">H</text>
<line x1="215" y1="140" x2="220" y2="140" stroke="#444" stroke-width="0.6"/><path d="M219,138.8 L221,140 L219,141.2Z" fill="#444"/>
<text transform="translate(171,191.2) rotate(-10)" style="font-family:'Liberation Sans',sans-serif;font-size:8.3px;fill:#701868">copper</text>
<text x="257" y="161.5" style="font-family:'Liberation Serif',serif;font-size:5.6px;fill:#444;" text-anchor="start">22mm</text>
<text x="277" y="179.2" style="font-family:'Liberation Serif',serif;font-size:5.6px;fill:#444;" text-anchor="start">6mm</text>
<text x="180" y="205.5" style="font-family:'Liberation Serif',serif;font-size:5.6px;fill:#444;" text-anchor="start">44mm</text>
<path d="M266,176 L272,176 L273,181 L268,182" fill="#fff" stroke="#333" stroke-width="0.6"/>
<line x1="269" y1="183" x2="273" y2="187" stroke="#333" stroke-width="0.6"/>
<g stroke="#dc4474" stroke-width="1" fill="none"><line x1="271.6" y1="216.3" x2="271.6" y2="197.5"/><line x1="271.6" y1="216.3" x2="252.3" y2="219.6"/><line x1="271.6" y1="216.3" x2="281.2" y2="226"/></g>
<path d="M270.2,198.5 L271.6,195.3 L273,198.5 Z" fill="#dc4474"/>
<text x="263.5" y="200.5" style="font-family:'Liberation Serif',serif;font-size:7.5px;fill:#333;font-style:italic" text-anchor="start">z</text>
<text x="256.8" y="226" style="font-family:'Liberation Serif',serif;font-size:8.5px;fill:#333;font-style:italic" text-anchor="start">x</text>
<text x="280.5" y="216.5" style="font-family:'Liberation Serif',serif;font-size:8.5px;fill:#333;font-style:italic" text-anchor="start">y</text>
<text x="1.6" y="236.1" style="font-family:'Liberation Serif',serif;font-size:16px;fill:#222;stroke:#111;stroke-width:0.15" text-anchor="start">(d)</text>
<line x1="32.5" y1="303" x2="32.5" y2="242" stroke="#44478f" stroke-width="1.3"/><path d="M30.3,243.5 L32.5,238.5 L34.7,243.5 Z" fill="#44478f"/>
<path d="M32.5,302.6 L40.10,302.6 Q41.40,302 42.30,296.8 Q43.30,307.5 44.30,306.3 Q45.10,303.2 46.60,302.7  L212.40,302.6 Q213.70,302 214.60,296.8 Q215.60,307.5 216.60,306.3 Q217.40,303.2 218.90,302.7  L259,302.7" fill="none" stroke="#44478f" stroke-width="1.3" stroke-linejoin="round"/>
<path d="M258,300.3 L263,302.5 L258,304.7 Z" fill="#44478f"/>
<line x1="89.5" y1="244.2" x2="89.5" y2="302.5" stroke="#1fa05a" stroke-width="1.5"/>
<line x1="124.8" y1="260.6" x2="124.8" y2="302.5" stroke="#5b3aa6" stroke-width="1.4"/>
<line x1="127.6" y1="282" x2="127.6" y2="302.5" stroke="#e23a4a" stroke-width="1.3" stroke-dasharray="2,1.5"/>
<line x1="52.5" y1="282" x2="52.5" y2="302.5" stroke="#3a4aa8" stroke-width="1.1" stroke-dasharray="2,1.5"/>
<line x1="164.5" y1="282.5" x2="164.5" y2="302.5" stroke="#2a7aa8" stroke-width="1.1"/>
<line x1="200.3" y1="286" x2="200.3" y2="302.5" stroke="#44478f" stroke-width="1.1"/><path d="M200.3,286.5 Q200.6,281 203.5,279.6" fill="none" stroke="#44478f" stroke-width="0.9"/>
<line x1="248" y1="291" x2="248" y2="302.5" stroke="#44478f" stroke-width="1.1"/>
<line x1="55.5" y1="289.2" x2="86.5" y2="289.2" stroke="#c862b6" stroke-width="0.9"/><path d="M88.5,289.2 L85.5,287.59999999999997 L85.5,290.8 Z" fill="#c862b6"/><path d="M53.5,289.2 L56.5,287.59999999999997 L56.5,290.8 Z" fill="#c862b6"/>
<line x1="92.5" y1="289.2" x2="122" y2="289.2" stroke="#c862b6" stroke-width="0.9"/><path d="M124,289.2 L121,287.59999999999997 L121,290.8 Z" fill="#c862b6"/><path d="M90.5,289.2 L93.5,287.59999999999997 L93.5,290.8 Z" fill="#c862b6"/>
<line x1="130.5" y1="288.8" x2="161.5" y2="288.8" stroke="#c862b6" stroke-width="0.9" stroke-dasharray="1.6,1.2"/><path d="M163.5,288.8 L160.5,287.2 L160.5,290.40000000000003 Z" fill="#c862b6"/><path d="M128.5,288.8 L131.5,287.2 L131.5,290.40000000000003 Z" fill="#c862b6"/>
<line x1="167.5" y1="288.8" x2="197" y2="288.8" stroke="#c862b6" stroke-width="0.9"/><path d="M199,288.8 L196,287.2 L196,290.40000000000003 Z" fill="#c862b6"/><path d="M165.5,288.8 L168.5,287.2 L168.5,290.40000000000003 Z" fill="#c862b6"/>
<line x1="204" y1="292.5" x2="245" y2="292.5" stroke="#c862b6" stroke-width="0.9" stroke-dasharray="1.6,1.2"/><path d="M247,292.5 L244,290.9 L244,294.1 Z" fill="#c862b6"/><path d="M202,292.5 L205,290.9 L205,294.1 Z" fill="#c862b6"/>
<text x="68.4" y="286.4" style="font-family:'Liberation Serif',serif;font-size:10.5px;fill:#222;stroke:#222;stroke-width:0.05" text-anchor="middle">Δ</text>
<text x="106.9" y="284.6" style="font-family:'Liberation Serif',serif;font-size:10.5px;fill:#222;stroke:#222;stroke-width:0.05" text-anchor="middle">Δ</text>
<text x="142.3" y="298.8" style="font-family:'Liberation Serif',serif;font-size:10.5px;fill:#222;stroke:#222;stroke-width:0.05" text-anchor="middle">Δ</text>
<text x="180" y="285.8" style="font-family:'Liberation Serif',serif;font-size:10.5px;fill:#222;stroke:#222;stroke-width:0.05" text-anchor="middle">Δ</text>
<path d="M128,285 C133,277 136,283 141,276" fill="none" stroke="#e23a4a" stroke-width="0.9"/><path d="M143.5,274.5 L139.3,275.5 L141.8,278.2 Z" fill="#e23a4a"/>
<text x="72.3" y="237.9" style="font-family:'Liberation Sans',sans-serif;font-size:7.6px;fill:#2e2e2e;stroke:#2e2e2e;stroke-width:0.18" text-anchor="start">Pump laser</text>
<text x="97.7" y="252.3" style="font-family:'Liberation Sans',sans-serif;font-size:7.6px;fill:#2e2e2e;stroke:#2e2e2e;stroke-width:0.18" text-anchor="start">Cavity/Magnon frequency</text>
<text x="40" y="273.5" style="font-family:'Liberation Sans',sans-serif;font-size:7.6px;fill:#2e2e2e;stroke:#2e2e2e;stroke-width:0.18" text-anchor="start">Blue-detuned</text>
<text x="136" y="271.8" style="font-family:'Liberation Sans',sans-serif;font-size:7.6px;fill:#2e2e2e;stroke:#2e2e2e;stroke-width:0.18" text-anchor="start">Red-detuned</text>
<text x="191" y="269.8" style="font-family:'Liberation Sans',sans-serif;font-size:7.6px;fill:#2e2e2e;stroke:#2e2e2e;stroke-width:0.18" text-anchor="start">Third-order</text>
<text x="191" y="278.5" style="font-family:'Liberation Sans',sans-serif;font-size:7.6px;fill:#2e2e2e;stroke:#2e2e2e;stroke-width:0.18" text-anchor="start">sideband</text>
<text x="241" y="284.5" style="font-family:'Liberation Sans',sans-serif;font-size:7.6px;fill:#2e2e2e;stroke:#2e2e2e;stroke-width:0.18" text-anchor="start">N-order sideband</text>
<text x="148" y="311.8" style="font-family:'Liberation Sans',sans-serif;font-size:7.6px;fill:#2e2e2e;stroke:#2e2e2e;stroke-width:0.18" text-anchor="start">Second-order</text>
<text x="148" y="319.8" style="font-family:'Liberation Sans',sans-serif;font-size:7.6px;fill:#2e2e2e;stroke:#2e2e2e;stroke-width:0.18" text-anchor="start">sideband</text>
<text x="72" y="318.5" style="font-family:'Liberation Sans',sans-serif;font-size:7.6px;fill:#2e2e2e;stroke:#2e2e2e;stroke-width:0.18" text-anchor="start">Probe laser</text>
<path d="M53,303.2 L64.2,310.6 L116,310.6 L125.2,303.2 M64.2,310.6 L64.2,321 M116,310.6 L116,321 M64.2,321 L116,321" fill="none" stroke="#b86c98" stroke-width="0.9" stroke-dasharray="2.8,1.8"/>
<text x="310.7" y="140.4" style="font-family:'Liberation Serif',serif;font-size:16px;fill:#222;stroke:#111;stroke-width:0.15" text-anchor="start">(e)</text>
<path d="M345.70,174.00 L345.70,147.6 M362.69,164.69 L362.69,147.6 M379.68,174.40 L379.68,151.7 M396.67,177.17 L396.67,156.3 M413.66,179.05 L413.66,159.4 M430.65,180.35 L430.65,161 M447.64,180.90 L447.64,161 M464.63,181.38 L464.63,163 M481.62,181.69 L481.62,163 M498.61,181.99 L498.61,164 M515.60,182.30 L515.60,164 " stroke="#5ad05a" stroke-width="0.9" fill="none"/>
<path d="M345.70,174.00 L345.98,174.23 L346.27,174.58 L346.55,174.94 L346.83,175.29 L347.12,175.55 L347.40,175.66 L347.69,175.77 L347.97,175.89 L348.25,176.00 L348.54,176.11 L348.82,176.23 L349.10,176.06 L349.39,175.41 L349.67,174.76 L349.95,174.10 L350.24,172.99 L350.52,171.78 L350.81,170.58 L351.09,169.37 L351.37,168.17 L351.66,166.96 L351.94,165.75 L352.22,165.35 L352.51,165.17 L352.79,164.99 L353.07,164.80 L353.36,164.62 L353.64,164.43 L353.93,164.25 L354.21,164.18 L354.49,164.15 L354.78,164.12 L355.06,164.09 L355.34,164.07 L355.63,164.04 L355.91,164.01 L356.19,163.98 L356.48,163.95 L356.76,163.92 L357.05,163.90 L357.33,163.87 L357.61,163.84 L357.90,163.81 L358.18,163.81 L358.46,163.82 L358.75,163.84 L359.03,163.85 L359.31,163.87 L359.60,163.88 L359.88,163.89 L360.17,163.91 L360.45,163.92 L360.73,163.94 L361.02,163.95 L361.30,163.97 L361.58,163.98 L361.87,163.99 L362.15,164.15 L362.43,164.43 L362.72,164.72 L363.00,165.00 L363.29,165.29 L363.57,165.57 L363.85,165.85 L364.14,166.20 L364.42,166.63 L364.70,167.06 L364.99,167.48 L365.27,167.91 L365.55,168.33 L365.84,168.76 L366.12,169.18 L366.41,169.61 L366.69,170.03 L366.97,170.46 L367.26,170.64 L367.54,170.79 L367.82,170.94 L368.11,171.10 L368.39,171.25 L368.67,171.40 L368.96,171.56 L369.24,171.71 L369.53,171.86 L369.81,172.02 L370.09,172.17 L370.38,172.32 L370.66,172.48 L370.94,172.63 L371.23,172.78 L371.51,172.94 L371.79,173.09 L372.08,173.20 L372.36,173.21 L372.65,173.22 L372.93,173.22 L373.21,173.23 L373.50,173.24 L373.78,173.24 L374.06,173.25 L374.35,173.26 L374.63,173.27 L374.91,173.27 L375.20,173.28 L375.48,173.29 L375.77,173.29 L376.05,173.31 L376.33,173.40 L376.62,173.49 L376.90,173.57 L377.18,173.66 L377.47,173.74 L377.75,173.83 L378.03,173.91 L378.32,174.00 L378.60,174.08 L378.89,174.17 L379.17,174.25 L379.45,174.34 L379.74,174.42 L380.02,174.51 L380.30,174.59 L380.59,174.68 L380.87,174.76 L381.15,174.85 L381.44,174.93 L381.72,175.02 L382.01,175.10 L382.29,175.19 L382.57,175.27 L382.86,175.36 L383.14,175.44 L383.42,175.53 L383.71,175.61 L383.99,175.70 L384.27,175.78 L384.56,175.87 L384.84,175.95 L385.13,176.01 L385.41,176.04 L385.69,176.07 L385.98,176.10 L386.26,176.13 L386.54,176.15 L386.83,176.18 L387.11,176.21 L387.39,176.24 L387.68,176.27 L387.96,176.30 L388.25,176.32 L388.53,176.35 L388.81,176.38 L389.10,176.41 L389.38,176.44 L389.66,176.47 L389.95,176.49 L390.23,176.52 L390.52,176.55 L390.80,176.58 L391.08,176.61 L391.37,176.64 L391.65,176.66 L391.93,176.69 L392.22,176.72 L392.50,176.75 L392.78,176.78 L393.07,176.81 L393.35,176.84 L393.64,176.86 L393.92,176.89 L394.20,176.92 L394.49,176.95 L394.77,176.98 L395.05,177.01 L395.34,177.03 L395.62,177.06 L395.90,177.09 L396.19,177.12 L396.47,177.15 L396.76,177.18 L397.04,177.20 L397.32,177.23 L397.61,177.26 L397.89,177.29 L398.17,177.32 L398.46,177.35 L398.74,177.37 L399.02,177.40 L399.31,177.43 L399.59,177.46 L399.88,177.49 L400.16,177.52 L400.44,177.54 L400.73,177.57 L401.01,177.60 L401.29,177.63 L401.58,177.66 L401.86,177.69 L402.14,177.71 L402.43,177.74 L402.71,177.77 L403.00,177.80 L403.28,177.83 L403.56,177.86 L403.85,177.88 L404.13,177.91 L404.41,177.94 L404.70,177.97 L404.98,178.00 L405.26,178.03 L405.55,178.05 L405.83,178.08 L406.12,178.11 L406.40,178.14 L406.68,178.17 L406.97,178.20 L407.25,178.22 L407.53,178.25 L407.82,178.28 L408.10,178.31 L408.38,178.34 L408.67,178.37 L408.95,178.40 L409.24,178.42 L409.52,178.45 L409.80,178.48 L410.09,178.51 L410.37,178.56 L410.65,178.60 L410.94,178.64 L411.22,178.68 L411.50,178.73 L411.79,178.77 L412.07,178.81 L412.36,178.85 L412.64,178.90 L412.92,178.94 L413.21,178.98 L413.49,179.02 L413.77,179.07 L414.06,179.11 L414.34,179.15 L414.62,179.19 L414.91,179.24 L415.19,179.28 L415.48,179.32 L415.76,179.36 L416.04,179.41 L416.33,179.45 L416.61,179.49 L416.89,179.53 L417.18,179.58 L417.46,179.62 L417.74,179.66 L418.03,179.70 L418.31,179.75 L418.60,179.79 L418.88,179.83 L419.16,179.87 L419.45,179.92 L419.73,179.96 L420.01,180.00 L420.30,180.01 L420.58,180.02 L420.86,180.03 L421.15,180.04 L421.43,180.05 L421.72,180.06 L422.00,180.06 L422.28,180.07 L422.57,180.08 L422.85,180.09 L423.13,180.10 L423.42,180.11 L423.70,180.12 L423.98,180.13 L424.27,180.14 L424.55,180.15 L424.84,180.16 L425.12,180.17 L425.40,180.18 L425.69,180.18 L425.97,180.19 L426.25,180.20 L426.54,180.21 L426.82,180.22 L427.10,180.23 L427.39,180.24 L427.67,180.25 L427.96,180.26 L428.24,180.27 L428.52,180.28 L428.81,180.29 L429.09,180.30 L429.37,180.30 L429.66,180.31 L429.94,180.32 L430.22,180.33 L430.51,180.34 L430.79,180.35 L431.08,180.36 L431.36,180.37 L431.64,180.38 L431.93,180.39 L432.21,180.40 L432.49,180.41 L432.78,180.42 L433.06,180.42 L433.34,180.43 L433.63,180.44 L433.91,180.45 L434.20,180.46 L434.48,180.47 L434.76,180.48 L435.05,180.49 L435.33,180.50 L435.61,180.51 L435.90,180.52 L436.18,180.53 L436.46,180.54 L436.75,180.54 L437.03,180.55 L437.32,180.56 L437.60,180.57 L437.88,180.58 L438.17,180.59 L438.45,180.60 L438.73,180.61 L439.02,180.62 L439.30,180.63 L439.58,180.64 L439.87,180.65 L440.15,180.65 L440.44,180.66 L440.72,180.67 L441.00,180.68 L441.29,180.69 L441.57,180.70 L441.85,180.71 L442.14,180.72 L442.42,180.73 L442.70,180.74 L442.99,180.75 L443.27,180.76 L443.56,180.77 L443.84,180.77 L444.12,180.78 L444.41,180.79 L444.69,180.80 L444.97,180.81 L445.26,180.82 L445.54,180.83 L445.82,180.84 L446.11,180.85 L446.39,180.86 L446.68,180.87 L446.96,180.88 L447.24,180.89 L447.53,180.89 L447.81,180.90 L448.09,180.91 L448.38,180.92 L448.66,180.93 L448.94,180.94 L449.23,180.95 L449.51,180.96 L449.80,180.97 L450.08,180.98 L450.36,180.99 L450.65,181.00 L450.93,181.01 L451.21,181.01 L451.50,181.02 L451.78,181.03 L452.06,181.04 L452.35,181.05 L452.63,181.06 L452.92,181.07 L453.20,181.08 L453.48,181.09 L453.77,181.10 L454.05,181.11 L454.33,181.12 L454.62,181.13 L454.90,181.13 L455.18,181.14 L455.47,181.15 L455.75,181.16 L456.04,181.17 L456.32,181.18 L456.60,181.19 L456.89,181.20 L457.17,181.21 L457.45,181.22 L457.74,181.23 L458.02,181.24 L458.30,181.24 L458.59,181.25 L458.87,181.26 L459.16,181.27 L459.44,181.28 L459.72,181.29 L460.01,181.30 L460.29,181.31 L460.57,181.31 L460.86,181.32 L461.14,181.32 L461.42,181.33 L461.71,181.33 L461.99,181.34 L462.28,181.34 L462.56,181.35 L462.84,181.35 L463.13,181.36 L463.41,181.36 L463.69,181.37 L463.98,181.37 L464.26,181.38 L464.54,181.38 L464.83,181.39 L465.11,181.39 L465.40,181.40 L465.68,181.40 L465.96,181.41 L466.25,181.41 L466.53,181.42 L466.81,181.42 L467.10,181.43 L467.38,181.43 L467.66,181.44 L467.95,181.44 L468.23,181.45 L468.52,181.45 L468.80,181.46 L469.08,181.46 L469.37,181.47 L469.65,181.47 L469.93,181.48 L470.22,181.48 L470.50,181.49 L470.78,181.49 L471.07,181.50 L471.35,181.50 L471.64,181.51 L471.92,181.51 L472.20,181.52 L472.49,181.52 L472.77,181.53 L473.05,181.53 L473.34,181.54 L473.62,181.54 L473.91,181.55 L474.19,181.56 L474.47,181.56 L474.76,181.57 L475.04,181.57 L475.32,181.58 L475.61,181.58 L475.89,181.59 L476.17,181.59 L476.46,181.60 L476.74,181.60 L477.03,181.61 L477.31,181.61 L477.59,181.62 L477.88,181.62 L478.16,181.63 L478.44,181.63 L478.73,181.64 L479.01,181.64 L479.29,181.65 L479.58,181.65 L479.86,181.66 L480.15,181.66 L480.43,181.67 L480.71,181.67 L481.00,181.68 L481.28,181.68 L481.56,181.69 L481.85,181.69 L482.13,181.70 L482.41,181.70 L482.70,181.71 L482.98,181.71 L483.27,181.72 L483.55,181.72 L483.83,181.73 L484.12,181.73 L484.40,181.74 L484.68,181.74 L484.97,181.75 L485.25,181.75 L485.53,181.76 L485.82,181.76 L486.10,181.77 L486.39,181.77 L486.67,181.78 L486.95,181.78 L487.24,181.79 L487.52,181.79 L487.80,181.80 L488.09,181.81 L488.37,181.81 L488.65,181.82 L488.94,181.82 L489.22,181.83 L489.51,181.83 L489.79,181.84 L490.07,181.84 L490.36,181.85 L490.64,181.85 L490.92,181.86 L491.21,181.86 L491.49,181.87 L491.77,181.87 L492.06,181.88 L492.34,181.88 L492.63,181.89 L492.91,181.89 L493.19,181.90 L493.48,181.90 L493.76,181.91 L494.04,181.91 L494.33,181.92 L494.61,181.92 L494.89,181.93 L495.18,181.93 L495.46,181.94 L495.75,181.94 L496.03,181.95 L496.31,181.95 L496.60,181.96 L496.88,181.96 L497.16,181.97 L497.45,181.97 L497.73,181.98 L498.01,181.98 L498.30,181.99 L498.58,181.99 L498.87,182.00 L499.15,182.00 L499.43,182.01 L499.72,182.01 L500.00,182.02 L500.28,182.02 L500.57,182.03 L500.85,182.03 L501.13,182.04 L501.42,182.04 L501.70,182.05 L501.99,182.06 L502.27,182.06 L502.55,182.07 L502.84,182.07 L503.12,182.08 L503.40,182.08 L503.69,182.09 L503.97,182.09 L504.25,182.10 L504.54,182.10 L504.82,182.11 L505.11,182.11 L505.39,182.12 L505.67,182.12 L505.96,182.13 L506.24,182.13 L506.52,182.14 L506.81,182.14 L507.09,182.15 L507.37,182.15 L507.66,182.16 L507.94,182.16 L508.23,182.17 L508.51,182.17 L508.79,182.18 L509.08,182.18 L509.36,182.19 L509.64,182.19 L509.93,182.20 L510.21,182.20 L510.49,182.21 L510.78,182.21 L511.06,182.22 L511.35,182.22 L511.63,182.23 L511.91,182.23 L512.20,182.24 L512.48,182.24 L512.76,182.25 L513.05,182.25 L513.33,182.26 L513.61,182.26 L513.90,182.27 L514.18,182.27 L514.47,182.28 L514.75,182.28 L515.03,182.29 L515.32,182.29 L515.60,182.30" stroke="#3ac43a" stroke-width="0.9" fill="none"/>
<path d="M354.19,202.45 L354.19,185.7 M362.69,202.47 L362.69,185.7 M371.19,208.34 L371.19,185.7 M379.68,214.89 L379.68,198.3 M388.18,216.63 L388.18,198.3 M396.67,218.00 L396.67,197.3 M405.17,218.76 L405.17,199 M413.66,219.18 L413.66,204 M422.15,219.61 L422.15,204 M430.65,220.03 L430.65,204 M439.14,220.46 L439.14,201 M447.64,220.88 L447.64,201 M456.13,221.31 L456.13,203 M464.63,221.75 L464.63,208.5 M473.12,222.21 L473.12,208.5 M481.62,222.67 L481.62,207 M490.12,223.12 L490.12,207 M498.61,223.58 L498.61,209 M507.11,224.04 L507.11,209 M515.60,224.50 L515.60,209 " stroke="#3030c0" stroke-width="0.9" fill="none"/>
<path d="M345.70,212.50 L345.98,212.88 L346.27,213.46 L346.55,214.05 L346.83,214.63 L347.12,215.21 L347.40,215.80 L347.69,215.60 L347.97,215.00 L348.25,214.39 L348.54,213.79 L348.82,213.18 L349.10,212.88 L349.39,213.11 L349.67,213.34 L349.95,213.56 L350.24,213.79 L350.52,213.91 L350.81,212.78 L351.09,211.64 L351.37,210.51 L351.66,209.37 L351.94,208.24 L352.22,207.38 L352.51,206.60 L352.79,205.82 L353.07,205.04 L353.36,204.26 L353.64,203.48 L353.93,202.70 L354.21,202.45 L354.49,202.38 L354.78,202.31 L355.06,202.23 L355.34,202.16 L355.63,202.09 L355.91,202.02 L356.19,202.10 L356.48,202.24 L356.76,202.38 L357.05,202.52 L357.33,202.66 L357.61,202.81 L357.90,202.95 L358.18,202.93 L358.46,202.81 L358.75,202.70 L359.03,202.59 L359.31,202.47 L359.60,202.36 L359.88,202.25 L360.17,202.22 L360.45,202.24 L360.73,202.27 L361.02,202.30 L361.30,202.33 L361.58,202.36 L361.87,202.39 L362.15,202.42 L362.43,202.44 L362.72,202.47 L363.00,202.50 L363.29,202.55 L363.57,202.59 L363.85,202.64 L364.14,202.69 L364.42,202.74 L364.70,202.78 L364.99,202.83 L365.27,202.88 L365.55,202.93 L365.84,202.97 L366.12,203.03 L366.41,203.10 L366.69,203.17 L366.97,203.24 L367.26,203.31 L367.54,203.39 L367.82,203.46 L368.11,203.53 L368.39,203.60 L368.67,203.67 L368.96,203.74 L369.24,203.81 L369.53,203.88 L369.81,203.95 L370.09,204.34 L370.38,205.38 L370.66,206.42 L370.94,207.46 L371.23,208.50 L371.51,209.51 L371.79,209.79 L372.08,210.08 L372.36,210.36 L372.65,210.65 L372.93,210.93 L373.21,211.21 L373.50,211.50 L373.78,211.78 L374.06,212.04 L374.35,212.20 L374.63,212.36 L374.91,212.53 L375.20,212.69 L375.48,212.85 L375.77,213.02 L376.05,213.18 L376.33,213.34 L376.62,213.50 L376.90,213.67 L377.18,213.83 L377.47,213.99 L377.75,214.16 L378.03,214.31 L378.32,214.41 L378.60,214.51 L378.89,214.61 L379.17,214.71 L379.45,214.81 L379.74,214.91 L380.02,215.00 L380.30,215.06 L380.59,215.12 L380.87,215.17 L381.15,215.23 L381.44,215.29 L381.72,215.34 L382.01,215.40 L382.29,215.46 L382.57,215.51 L382.86,215.57 L383.14,215.63 L383.42,215.68 L383.71,215.74 L383.99,215.80 L384.27,215.85 L384.56,215.91 L384.84,215.97 L385.13,216.03 L385.41,216.08 L385.69,216.14 L385.98,216.20 L386.26,216.25 L386.54,216.31 L386.83,216.37 L387.11,216.42 L387.39,216.48 L387.68,216.54 L387.96,216.59 L388.25,216.65 L388.53,216.71 L388.81,216.76 L389.10,216.82 L389.38,216.88 L389.66,216.93 L389.95,216.99 L390.23,217.03 L390.52,217.08 L390.80,217.12 L391.08,217.16 L391.37,217.20 L391.65,217.25 L391.93,217.29 L392.22,217.33 L392.50,217.38 L392.78,217.42 L393.07,217.46 L393.35,217.50 L393.64,217.55 L393.92,217.59 L394.20,217.63 L394.49,217.67 L394.77,217.72 L395.05,217.76 L395.34,217.80 L395.62,217.84 L395.90,217.89 L396.19,217.93 L396.47,217.97 L396.76,218.01 L397.04,218.06 L397.32,218.10 L397.61,218.14 L397.89,218.18 L398.17,218.23 L398.46,218.27 L398.74,218.31 L399.02,218.35 L399.31,218.40 L399.59,218.44 L399.88,218.48 L400.16,218.51 L400.44,218.52 L400.73,218.54 L401.01,218.55 L401.29,218.56 L401.58,218.58 L401.86,218.59 L402.14,218.61 L402.43,218.62 L402.71,218.64 L403.00,218.65 L403.28,218.66 L403.56,218.68 L403.85,218.69 L404.13,218.71 L404.41,218.72 L404.70,218.73 L404.98,218.75 L405.26,218.76 L405.55,218.78 L405.83,218.79 L406.12,218.81 L406.40,218.82 L406.68,218.83 L406.97,218.85 L407.25,218.86 L407.53,218.88 L407.82,218.89 L408.10,218.91 L408.38,218.92 L408.67,218.93 L408.95,218.95 L409.24,218.96 L409.52,218.98 L409.80,218.99 L410.09,219.00 L410.37,219.02 L410.65,219.03 L410.94,219.05 L411.22,219.06 L411.50,219.08 L411.79,219.09 L412.07,219.10 L412.36,219.12 L412.64,219.13 L412.92,219.15 L413.21,219.16 L413.49,219.17 L413.77,219.19 L414.06,219.20 L414.34,219.22 L414.62,219.23 L414.91,219.25 L415.19,219.26 L415.48,219.27 L415.76,219.29 L416.04,219.30 L416.33,219.32 L416.61,219.33 L416.89,219.34 L417.18,219.36 L417.46,219.37 L417.74,219.39 L418.03,219.40 L418.31,219.42 L418.60,219.43 L418.88,219.44 L419.16,219.46 L419.45,219.47 L419.73,219.49 L420.01,219.50 L420.30,219.51 L420.58,219.53 L420.86,219.54 L421.15,219.56 L421.43,219.57 L421.72,219.59 L422.00,219.60 L422.28,219.61 L422.57,219.63 L422.85,219.64 L423.13,219.66 L423.42,219.67 L423.70,219.69 L423.98,219.70 L424.27,219.71 L424.55,219.73 L424.84,219.74 L425.12,219.76 L425.40,219.77 L425.69,219.78 L425.97,219.80 L426.25,219.81 L426.54,219.83 L426.82,219.84 L427.10,219.86 L427.39,219.87 L427.67,219.88 L427.96,219.90 L428.24,219.91 L428.52,219.93 L428.81,219.94 L429.09,219.95 L429.37,219.97 L429.66,219.98 L429.94,220.00 L430.22,220.01 L430.51,220.03 L430.79,220.04 L431.08,220.05 L431.36,220.07 L431.64,220.08 L431.93,220.10 L432.21,220.11 L432.49,220.12 L432.78,220.14 L433.06,220.15 L433.34,220.17 L433.63,220.18 L433.91,220.20 L434.20,220.21 L434.48,220.22 L434.76,220.24 L435.05,220.25 L435.33,220.27 L435.61,220.28 L435.90,220.29 L436.18,220.31 L436.46,220.32 L436.75,220.34 L437.03,220.35 L437.32,220.37 L437.60,220.38 L437.88,220.39 L438.17,220.41 L438.45,220.42 L438.73,220.44 L439.02,220.45 L439.30,220.47 L439.58,220.48 L439.87,220.49 L440.15,220.51 L440.44,220.52 L440.72,220.54 L441.00,220.55 L441.29,220.56 L441.57,220.58 L441.85,220.59 L442.14,220.61 L442.42,220.62 L442.70,220.64 L442.99,220.65 L443.27,220.66 L443.56,220.68 L443.84,220.69 L444.12,220.71 L444.41,220.72 L444.69,220.73 L444.97,220.75 L445.26,220.76 L445.54,220.78 L445.82,220.79 L446.11,220.81 L446.39,220.82 L446.68,220.83 L446.96,220.85 L447.24,220.86 L447.53,220.88 L447.81,220.89 L448.09,220.90 L448.38,220.92 L448.66,220.93 L448.94,220.95 L449.23,220.96 L449.51,220.98 L449.80,220.99 L450.08,221.00 L450.36,221.02 L450.65,221.03 L450.93,221.05 L451.21,221.06 L451.50,221.07 L451.78,221.09 L452.06,221.10 L452.35,221.12 L452.63,221.13 L452.92,221.15 L453.20,221.16 L453.48,221.17 L453.77,221.19 L454.05,221.20 L454.33,221.22 L454.62,221.23 L454.90,221.25 L455.18,221.26 L455.47,221.27 L455.75,221.29 L456.04,221.30 L456.32,221.32 L456.60,221.33 L456.89,221.34 L457.17,221.36 L457.45,221.37 L457.74,221.39 L458.02,221.40 L458.30,221.42 L458.59,221.43 L458.87,221.44 L459.16,221.46 L459.44,221.47 L459.72,221.49 L460.01,221.50 L460.29,221.52 L460.57,221.53 L460.86,221.55 L461.14,221.56 L461.42,221.58 L461.71,221.59 L461.99,221.61 L462.28,221.62 L462.56,221.64 L462.84,221.65 L463.13,221.67 L463.41,221.68 L463.69,221.70 L463.98,221.71 L464.26,221.73 L464.54,221.75 L464.83,221.76 L465.11,221.78 L465.40,221.79 L465.68,221.81 L465.96,221.82 L466.25,221.84 L466.53,221.85 L466.81,221.87 L467.10,221.88 L467.38,221.90 L467.66,221.91 L467.95,221.93 L468.23,221.94 L468.52,221.96 L468.80,221.97 L469.08,221.99 L469.37,222.01 L469.65,222.02 L469.93,222.04 L470.22,222.05 L470.50,222.07 L470.78,222.08 L471.07,222.10 L471.35,222.11 L471.64,222.13 L471.92,222.14 L472.20,222.16 L472.49,222.17 L472.77,222.19 L473.05,222.20 L473.34,222.22 L473.62,222.23 L473.91,222.25 L474.19,222.27 L474.47,222.28 L474.76,222.30 L475.04,222.31 L475.32,222.33 L475.61,222.34 L475.89,222.36 L476.17,222.37 L476.46,222.39 L476.74,222.40 L477.03,222.42 L477.31,222.43 L477.59,222.45 L477.88,222.46 L478.16,222.48 L478.44,222.50 L478.73,222.51 L479.01,222.53 L479.29,222.54 L479.58,222.56 L479.86,222.57 L480.15,222.59 L480.43,222.60 L480.71,222.62 L481.00,222.63 L481.28,222.65 L481.56,222.66 L481.85,222.68 L482.13,222.69 L482.41,222.71 L482.70,222.72 L482.98,222.74 L483.27,222.76 L483.55,222.77 L483.83,222.79 L484.12,222.80 L484.40,222.82 L484.68,222.83 L484.97,222.85 L485.25,222.86 L485.53,222.88 L485.82,222.89 L486.10,222.91 L486.39,222.92 L486.67,222.94 L486.95,222.95 L487.24,222.97 L487.52,222.98 L487.80,223.00 L488.09,223.02 L488.37,223.03 L488.65,223.05 L488.94,223.06 L489.22,223.08 L489.51,223.09 L489.79,223.11 L490.07,223.12 L490.36,223.14 L490.64,223.15 L490.92,223.17 L491.21,223.18 L491.49,223.20 L491.77,223.21 L492.06,223.23 L492.34,223.25 L492.63,223.26 L492.91,223.28 L493.19,223.29 L493.48,223.31 L493.76,223.32 L494.04,223.34 L494.33,223.35 L494.61,223.37 L494.89,223.38 L495.18,223.40 L495.46,223.41 L495.75,223.43 L496.03,223.44 L496.31,223.46 L496.60,223.47 L496.88,223.49 L497.16,223.51 L497.45,223.52 L497.73,223.54 L498.01,223.55 L498.30,223.57 L498.58,223.58 L498.87,223.60 L499.15,223.61 L499.43,223.63 L499.72,223.64 L500.00,223.66 L500.28,223.67 L500.57,223.69 L500.85,223.70 L501.13,223.72 L501.42,223.73 L501.70,223.75 L501.99,223.77 L502.27,223.78 L502.55,223.80 L502.84,223.81 L503.12,223.83 L503.40,223.84 L503.69,223.86 L503.97,223.87 L504.25,223.89 L504.54,223.90 L504.82,223.92 L505.11,223.93 L505.39,223.95 L505.67,223.96 L505.96,223.98 L506.24,223.99 L506.52,224.01 L506.81,224.03 L507.09,224.04 L507.37,224.06 L507.66,224.07 L507.94,224.09 L508.23,224.10 L508.51,224.12 L508.79,224.13 L509.08,224.15 L509.36,224.16 L509.64,224.18 L509.93,224.19 L510.21,224.21 L510.49,224.22 L510.78,224.24 L511.06,224.26 L511.35,224.27 L511.63,224.29 L511.91,224.30 L512.20,224.32 L512.48,224.33 L512.76,224.35 L513.05,224.36 L513.33,224.38 L513.61,224.39 L513.90,224.41 L514.18,224.42 L514.47,224.44 L514.75,224.45 L515.03,224.47 L515.32,224.48 L515.60,224.50" stroke="#2a2ab8" stroke-width="1" fill="none"/>
<path d="M349.95,249.99 L349.95,226.0 M354.19,246.85 L354.19,226.0 M358.44,243.91 L358.44,226.0 M362.69,244.02 L362.69,226.0 M366.94,246.46 L366.94,226.0 M371.19,251.56 L371.19,240.5 M375.43,252.83 L375.43,231.0 M379.68,254.84 L379.68,241.0 M383.93,255.39 L383.93,244.8 M388.18,255.82 L388.18,237.7 M392.42,256.24 L392.42,242.0 M396.67,256.67 L396.67,247.0 M400.92,257.08 L400.92,242.0 M405.17,257.43 L405.17,243.4 M409.41,257.78 L409.41,247.6 M413.66,258.14 L413.66,245.0 M417.91,258.49 L417.91,245.0 M422.15,258.85 L422.15,248.0 M426.40,259.20 L426.40,248.0 M430.65,259.59 L430.65,245.5 M434.90,260.19 L434.90,250.5 M439.14,260.79 L439.14,249.0 M443.39,261.39 L443.39,247.0 M447.64,261.99 L447.64,249.0 M451.89,262.58 L451.89,250.0 M456.13,262.70 L456.13,248.6 M460.38,262.81 L460.38,249.9 M464.63,262.92 L464.63,249.2 M468.88,263.02 L468.88,250.2 M473.12,263.13 L473.12,250.3 M477.37,263.23 L477.37,247.8 M481.62,263.33 L481.62,247.6 M485.87,263.42 L485.87,251.3 M490.12,263.50 L490.12,248.7 M494.36,263.58 L494.36,248.6 M498.61,263.67 L498.61,252.0 M502.86,263.75 L502.86,249.6 M507.11,263.83 L507.11,251.3 M511.35,263.92 L511.35,249.6 M515.60,264.00 L515.60,250.4 " stroke="#cc4ccc" stroke-width="0.9" fill="none"/>
<path d="M345.70,249.00 L345.98,249.04 L346.27,249.11 L346.55,249.18 L346.83,249.25 L347.12,249.31 L347.40,249.38 L347.69,249.45 L347.97,249.52 L348.25,249.58 L348.54,249.65 L348.82,249.72 L349.10,249.79 L349.39,249.85 L349.67,249.92 L349.95,249.99 L350.24,249.82 L350.52,249.61 L350.81,249.40 L351.09,249.18 L351.37,248.97 L351.66,248.76 L351.94,248.54 L352.22,248.33 L352.51,248.12 L352.79,247.91 L353.07,247.69 L353.36,247.48 L353.64,247.27 L353.93,247.06 L354.21,246.84 L354.49,246.63 L354.78,246.42 L355.06,246.20 L355.34,245.99 L355.63,245.78 L355.91,245.57 L356.19,245.35 L356.48,245.14 L356.76,244.93 L357.05,244.72 L357.33,244.50 L357.61,244.29 L357.90,244.08 L358.18,243.96 L358.46,243.91 L358.75,243.85 L359.03,243.79 L359.31,243.74 L359.60,243.68 L359.88,243.62 L360.17,243.57 L360.45,243.51 L360.73,243.45 L361.02,243.41 L361.30,243.51 L361.58,243.61 L361.87,243.72 L362.15,243.82 L362.43,243.93 L362.72,244.03 L363.00,244.13 L363.29,244.24 L363.57,244.34 L363.85,244.45 L364.14,244.59 L364.42,244.78 L364.70,244.97 L364.99,245.16 L365.27,245.35 L365.55,245.54 L365.84,245.73 L366.12,245.91 L366.41,246.10 L366.69,246.29 L366.97,246.48 L367.26,246.82 L367.54,247.18 L367.82,247.53 L368.11,247.88 L368.39,248.24 L368.67,248.59 L368.96,248.95 L369.24,249.30 L369.53,249.66 L369.81,250.01 L370.09,250.37 L370.38,250.72 L370.66,251.08 L370.94,251.43 L371.23,251.57 L371.51,251.65 L371.79,251.74 L372.08,251.82 L372.36,251.91 L372.65,251.99 L372.93,252.08 L373.21,252.16 L373.50,252.25 L373.78,252.33 L374.06,252.42 L374.35,252.50 L374.63,252.59 L374.91,252.67 L375.20,252.76 L375.48,252.84 L375.77,252.93 L376.05,253.02 L376.33,253.17 L376.62,253.31 L376.90,253.45 L377.18,253.59 L377.47,253.73 L377.75,253.88 L378.03,254.02 L378.32,254.16 L378.60,254.30 L378.89,254.44 L379.17,254.58 L379.45,254.73 L379.74,254.87 L380.02,255.00 L380.30,255.03 L380.59,255.06 L380.87,255.09 L381.15,255.12 L381.44,255.14 L381.72,255.17 L382.01,255.20 L382.29,255.23 L382.57,255.26 L382.86,255.29 L383.14,255.31 L383.42,255.34 L383.71,255.37 L383.99,255.40 L384.27,255.43 L384.56,255.46 L384.84,255.48 L385.13,255.51 L385.41,255.54 L385.69,255.57 L385.98,255.60 L386.26,255.63 L386.54,255.65 L386.83,255.68 L387.11,255.71 L387.39,255.74 L387.68,255.77 L387.96,255.80 L388.25,255.82 L388.53,255.85 L388.81,255.88 L389.10,255.91 L389.38,255.94 L389.66,255.97 L389.95,255.99 L390.23,256.02 L390.52,256.05 L390.80,256.08 L391.08,256.11 L391.37,256.14 L391.65,256.16 L391.93,256.19 L392.22,256.22 L392.50,256.25 L392.78,256.28 L393.07,256.31 L393.35,256.34 L393.64,256.36 L393.92,256.39 L394.20,256.42 L394.49,256.45 L394.77,256.48 L395.05,256.51 L395.34,256.53 L395.62,256.56 L395.90,256.59 L396.19,256.62 L396.47,256.65 L396.76,256.68 L397.04,256.70 L397.32,256.73 L397.61,256.76 L397.89,256.79 L398.17,256.82 L398.46,256.85 L398.74,256.87 L399.02,256.90 L399.31,256.93 L399.59,256.96 L399.88,256.99 L400.16,257.01 L400.44,257.04 L400.73,257.06 L401.01,257.08 L401.29,257.11 L401.58,257.13 L401.86,257.16 L402.14,257.18 L402.43,257.20 L402.71,257.23 L403.00,257.25 L403.28,257.27 L403.56,257.30 L403.85,257.32 L404.13,257.34 L404.41,257.37 L404.70,257.39 L404.98,257.42 L405.26,257.44 L405.55,257.46 L405.83,257.49 L406.12,257.51 L406.40,257.53 L406.68,257.56 L406.97,257.58 L407.25,257.60 L407.53,257.63 L407.82,257.65 L408.10,257.68 L408.38,257.70 L408.67,257.72 L408.95,257.75 L409.24,257.77 L409.52,257.79 L409.80,257.82 L410.09,257.84 L410.37,257.86 L410.65,257.89 L410.94,257.91 L411.22,257.94 L411.50,257.96 L411.79,257.98 L412.07,258.01 L412.36,258.03 L412.64,258.05 L412.92,258.08 L413.21,258.10 L413.49,258.12 L413.77,258.15 L414.06,258.17 L414.34,258.20 L414.62,258.22 L414.91,258.24 L415.19,258.27 L415.48,258.29 L415.76,258.31 L416.04,258.34 L416.33,258.36 L416.61,258.38 L416.89,258.41 L417.18,258.43 L417.46,258.46 L417.74,258.48 L418.03,258.50 L418.31,258.53 L418.60,258.55 L418.88,258.57 L419.16,258.60 L419.45,258.62 L419.73,258.64 L420.01,258.67 L420.30,258.69 L420.58,258.72 L420.86,258.74 L421.15,258.76 L421.43,258.79 L421.72,258.81 L422.00,258.83 L422.28,258.86 L422.57,258.88 L422.85,258.90 L423.13,258.93 L423.42,258.95 L423.70,258.98 L423.98,259.00 L424.27,259.02 L424.55,259.05 L424.84,259.07 L425.12,259.09 L425.40,259.12 L425.69,259.14 L425.97,259.16 L426.25,259.19 L426.54,259.21 L426.82,259.24 L427.10,259.26 L427.39,259.28 L427.67,259.31 L427.96,259.33 L428.24,259.35 L428.52,259.38 L428.81,259.40 L429.09,259.42 L429.37,259.45 L429.66,259.47 L429.94,259.50 L430.22,259.53 L430.51,259.57 L430.79,259.61 L431.08,259.65 L431.36,259.69 L431.64,259.73 L431.93,259.77 L432.21,259.81 L432.49,259.85 L432.78,259.89 L433.06,259.93 L433.34,259.97 L433.63,260.01 L433.91,260.05 L434.20,260.09 L434.48,260.13 L434.76,260.17 L435.05,260.21 L435.33,260.25 L435.61,260.29 L435.90,260.33 L436.18,260.37 L436.46,260.41 L436.75,260.45 L437.03,260.49 L437.32,260.53 L437.60,260.57 L437.88,260.61 L438.17,260.65 L438.45,260.69 L438.73,260.73 L439.02,260.77 L439.30,260.81 L439.58,260.85 L439.87,260.89 L440.15,260.93 L440.44,260.97 L440.72,261.01 L441.00,261.05 L441.29,261.09 L441.57,261.13 L441.85,261.17 L442.14,261.21 L442.42,261.25 L442.70,261.29 L442.99,261.33 L443.27,261.37 L443.56,261.41 L443.84,261.45 L444.12,261.49 L444.41,261.53 L444.69,261.57 L444.97,261.61 L445.26,261.65 L445.54,261.69 L445.82,261.73 L446.11,261.77 L446.39,261.81 L446.68,261.85 L446.96,261.89 L447.24,261.93 L447.53,261.97 L447.81,262.01 L448.09,262.05 L448.38,262.09 L448.66,262.13 L448.94,262.17 L449.23,262.21 L449.51,262.25 L449.80,262.29 L450.08,262.33 L450.36,262.37 L450.65,262.41 L450.93,262.45 L451.21,262.49 L451.50,262.53 L451.78,262.57 L452.06,262.60 L452.35,262.61 L452.63,262.62 L452.92,262.62 L453.20,262.63 L453.48,262.64 L453.77,262.64 L454.05,262.65 L454.33,262.66 L454.62,262.67 L454.90,262.67 L455.18,262.68 L455.47,262.69 L455.75,262.69 L456.04,262.70 L456.32,262.71 L456.60,262.72 L456.89,262.72 L457.17,262.73 L457.45,262.74 L457.74,262.74 L458.02,262.75 L458.30,262.76 L458.59,262.76 L458.87,262.77 L459.16,262.78 L459.44,262.79 L459.72,262.79 L460.01,262.80 L460.29,262.81 L460.57,262.81 L460.86,262.82 L461.14,262.83 L461.42,262.84 L461.71,262.84 L461.99,262.85 L462.28,262.86 L462.56,262.86 L462.84,262.87 L463.13,262.88 L463.41,262.89 L463.69,262.89 L463.98,262.90 L464.26,262.91 L464.54,262.91 L464.83,262.92 L465.11,262.93 L465.40,262.93 L465.68,262.94 L465.96,262.95 L466.25,262.96 L466.53,262.96 L466.81,262.97 L467.10,262.98 L467.38,262.98 L467.66,262.99 L467.95,263.00 L468.23,263.01 L468.52,263.01 L468.80,263.02 L469.08,263.03 L469.37,263.03 L469.65,263.04 L469.93,263.05 L470.22,263.06 L470.50,263.06 L470.78,263.07 L471.07,263.08 L471.35,263.08 L471.64,263.09 L471.92,263.10 L472.20,263.11 L472.49,263.11 L472.77,263.12 L473.05,263.13 L473.34,263.13 L473.62,263.14 L473.91,263.15 L474.19,263.15 L474.47,263.16 L474.76,263.17 L475.04,263.18 L475.32,263.18 L475.61,263.19 L475.89,263.20 L476.17,263.20 L476.46,263.21 L476.74,263.22 L477.03,263.23 L477.31,263.23 L477.59,263.24 L477.88,263.25 L478.16,263.25 L478.44,263.26 L478.73,263.27 L479.01,263.28 L479.29,263.28 L479.58,263.29 L479.86,263.30 L480.15,263.30 L480.43,263.31 L480.71,263.31 L481.00,263.32 L481.28,263.33 L481.56,263.33 L481.85,263.34 L482.13,263.34 L482.41,263.35 L482.70,263.35 L482.98,263.36 L483.27,263.36 L483.55,263.37 L483.83,263.38 L484.12,263.38 L484.40,263.39 L484.68,263.39 L484.97,263.40 L485.25,263.40 L485.53,263.41 L485.82,263.41 L486.10,263.42 L486.39,263.43 L486.67,263.43 L486.95,263.44 L487.24,263.44 L487.52,263.45 L487.80,263.45 L488.09,263.46 L488.37,263.46 L488.65,263.47 L488.94,263.48 L489.22,263.48 L489.51,263.49 L489.79,263.49 L490.07,263.50 L490.36,263.50 L490.64,263.51 L490.92,263.51 L491.21,263.52 L491.49,263.53 L491.77,263.53 L492.06,263.54 L492.34,263.54 L492.63,263.55 L492.91,263.55 L493.19,263.56 L493.48,263.56 L493.76,263.57 L494.04,263.58 L494.33,263.58 L494.61,263.59 L494.89,263.59 L495.18,263.60 L495.46,263.60 L495.75,263.61 L496.03,263.62 L496.31,263.62 L496.60,263.63 L496.88,263.63 L497.16,263.64 L497.45,263.64 L497.73,263.65 L498.01,263.65 L498.30,263.66 L498.58,263.67 L498.87,263.67 L499.15,263.68 L499.43,263.68 L499.72,263.69 L500.00,263.69 L500.28,263.70 L500.57,263.70 L500.85,263.71 L501.13,263.72 L501.42,263.72 L501.70,263.73 L501.99,263.73 L502.27,263.74 L502.55,263.74 L502.84,263.75 L503.12,263.75 L503.40,263.76 L503.69,263.77 L503.97,263.77 L504.25,263.78 L504.54,263.78 L504.82,263.79 L505.11,263.79 L505.39,263.80 L505.67,263.80 L505.96,263.81 L506.24,263.82 L506.52,263.82 L506.81,263.83 L507.09,263.83 L507.37,263.84 L507.66,263.84 L507.94,263.85 L508.23,263.85 L508.51,263.86 L508.79,263.87 L509.08,263.87 L509.36,263.88 L509.64,263.88 L509.93,263.89 L510.21,263.89 L510.49,263.90 L510.78,263.91 L511.06,263.91 L511.35,263.92 L511.63,263.92 L511.91,263.93 L512.20,263.93 L512.48,263.94 L512.76,263.94 L513.05,263.95 L513.33,263.96 L513.61,263.96 L513.90,263.97 L514.18,263.97 L514.47,263.98 L514.75,263.98 L515.03,263.99 L515.32,263.99 L515.60,264.00" stroke="#d040d0" stroke-width="0.9" fill="none"/>
<path d="M344.65,290.00 L344.65,267.80 L346.75,267.80 L346.75,290.00 Z M346.77,296.16 L346.77,267.80 L348.87,267.80 L348.87,296.16 Z M348.90,296.86 L348.90,267.80 L351.00,267.80 L351.00,296.86 Z M351.02,283.99 L351.02,272.01 L353.12,272.01 L353.12,283.99 Z M353.14,283.63 L353.14,276.01 L355.25,276.01 L355.25,283.63 Z M355.27,283.63 L355.27,275.99 L357.37,275.99 L357.37,283.63 Z M357.39,283.84 L357.39,272.24 L359.49,272.24 L359.49,283.84 Z M359.52,284.28 L359.52,267.80 L361.62,267.80 L361.62,284.28 Z M361.64,285.35 L361.64,268.51 L363.74,268.51 L363.74,285.35 Z M363.76,286.28 L363.76,272.38 L365.86,272.38 L365.86,286.28 Z M365.89,287.19 L365.89,278.08 L367.99,278.08 L367.99,287.19 Z M368.01,288.10 L368.01,282.42 L370.11,282.42 L370.11,288.10 Z M370.13,288.91 L370.13,282.61 L372.24,282.61 L372.24,288.91 Z M372.26,289.66 L372.26,288.25 L374.36,288.25 L374.36,289.66 Z M374.38,290.40 L374.38,277.90 L376.48,277.90 L376.48,290.40 Z M376.51,291.14 L376.51,274.12 L378.61,274.12 L378.61,291.14 Z M378.63,291.89 L378.63,279.73 L380.73,279.73 L380.73,291.89 Z M380.75,292.54 L380.75,285.82 L382.85,285.82 L382.85,292.54 Z M382.88,293.18 L382.88,287.69 L384.98,287.69 L384.98,293.18 Z M385.00,293.82 L385.00,289.15 L387.10,289.15 L387.10,293.82 Z M387.12,294.45 L387.12,284.84 L389.23,284.84 L389.23,294.45 Z M389.25,295.06 L389.25,281.77 L391.35,281.77 L391.35,295.06 Z M391.37,295.48 L391.37,281.10 L393.47,281.10 L393.47,295.48 Z M393.50,295.91 L393.50,282.02 L395.60,282.02 L395.60,295.91 Z M395.62,296.33 L395.62,285.62 L397.72,285.62 L397.72,296.33 Z M397.74,296.76 L397.74,287.64 L399.84,287.64 L399.84,296.76 Z M399.87,297.06 L399.87,290.91 L401.97,290.91 L401.97,297.06 Z M401.99,297.20 L401.99,286.73 L404.09,286.73 L404.09,297.20 Z M404.12,297.34 L404.12,284.88 L406.22,284.88 L406.22,297.34 Z M406.24,297.49 L406.24,283.50 L408.34,283.50 L408.34,297.49 Z M408.36,297.63 L408.36,283.52 L410.46,283.52 L410.46,297.63 Z M410.49,297.77 L410.49,286.57 L412.59,286.57 L412.59,297.77 Z M412.61,297.91 L412.61,290.42 L414.71,290.42 L414.71,297.91 Z M414.73,298.05 L414.73,291.72 L416.83,291.72 L416.83,298.05 Z M416.86,298.19 L416.86,288.20 L418.96,288.20 L418.96,298.19 Z M418.98,298.34 L418.98,288.48 L421.08,288.48 L421.08,298.34 Z M421.10,298.48 L421.10,289.20 L423.20,289.20 L423.20,298.48 Z M423.23,298.62 L423.23,285.70 L425.33,285.70 L425.33,298.62 Z M425.35,298.76 L425.35,287.31 L427.45,287.31 L427.45,298.76 Z M427.48,298.90 L427.48,292.62 L429.58,292.62 L429.58,298.90 Z M429.60,299.03 L429.60,289.98 L431.70,289.98 L431.70,299.03 Z M431.72,299.14 L431.72,291.27 L433.82,291.27 L433.82,299.14 Z M433.85,299.24 L433.85,291.01 L435.95,291.01 L435.95,299.24 Z M435.97,299.35 L435.97,289.71 L438.07,289.71 L438.07,299.35 Z M438.09,299.46 L438.09,291.00 L440.19,291.00 L440.19,299.46 Z M440.22,299.56 L440.22,291.08 L442.32,291.08 L442.32,299.56 Z M442.34,299.67 L442.34,294.03 L444.44,294.03 L444.44,299.67 Z M444.47,299.78 L444.47,291.19 L446.57,291.19 L446.57,299.78 Z M446.59,299.88 L446.59,292.68 L448.69,292.68 L448.69,299.88 Z M448.71,299.99 L448.71,294.10 L450.81,294.10 L450.81,299.99 Z M450.84,300.09 L450.84,290.85 L452.94,290.85 L452.94,300.09 Z M452.96,300.20 L452.96,292.63 L455.06,292.63 L455.06,300.20 Z M455.08,300.31 L455.08,292.43 L457.19,292.43 L457.19,300.31 Z M457.21,300.41 L457.21,292.94 L459.31,292.94 L459.31,300.41 Z M459.33,300.51 L459.33,287.38 L461.43,287.38 L461.43,300.51 Z M461.46,300.55 L461.46,289.89 L463.56,289.89 L463.56,300.55 Z M463.58,300.59 L463.58,289.33 L465.68,289.33 L465.68,300.59 Z M465.70,300.63 L465.70,295.88 L467.80,295.88 L467.80,300.63 Z M467.83,300.68 L467.83,294.92 L469.93,294.92 L469.93,300.68 Z M469.95,300.72 L469.95,288.88 L472.05,288.88 L472.05,300.72 Z M472.07,300.76 L472.07,295.25 L474.18,295.25 L474.18,300.76 Z M474.20,300.80 L474.20,294.32 L476.30,294.32 L476.30,300.80 Z M476.32,300.84 L476.32,291.86 L478.42,291.86 L478.42,300.84 Z M478.45,300.89 L478.45,292.38 L480.55,292.38 L480.55,300.89 Z M480.57,300.93 L480.57,289.86 L482.67,289.86 L482.67,300.93 Z M482.69,300.97 L482.69,289.52 L484.79,289.52 L484.79,300.97 Z M484.82,301.01 L484.82,293.60 L486.92,293.60 L486.92,301.01 Z M486.94,301.05 L486.94,289.02 L489.04,289.02 L489.04,301.05 Z M489.06,301.10 L489.06,288.92 L491.17,288.92 L491.17,301.10 Z M491.19,301.14 L491.19,288.54 L493.29,288.54 L493.29,301.14 Z M493.31,301.18 L493.31,286.87 L495.41,286.87 L495.41,301.18 Z M495.44,301.22 L495.44,291.16 L497.54,291.16 L497.54,301.22 Z M497.56,301.26 L497.56,292.12 L499.66,292.12 L499.66,301.26 Z M499.68,301.31 L499.68,296.13 L501.78,296.13 L501.78,301.31 Z M501.81,301.35 L501.81,293.53 L503.91,293.53 L503.91,301.35 Z M503.93,301.39 L503.93,293.67 L506.03,293.67 L506.03,301.39 Z M506.06,301.43 L506.06,291.40 L508.16,291.40 L508.16,301.43 Z M508.18,301.47 L508.18,291.91 L510.28,291.91 L510.28,301.47 Z M510.30,301.52 L510.30,290.28 L512.40,290.28 L512.40,301.52 Z M512.43,301.56 L512.43,289.67 L514.53,289.67 L514.53,301.56 Z M514.55,301.60 L514.55,296.57 L516.65,296.57 L516.65,301.60 Z " fill="#f9d2d6" stroke="none"/>
<path d="M345.70,290.00 L345.70,266.3 M347.82,296.16 L347.82,266.3 M349.95,296.86 L349.95,266.3 M352.07,283.99 L352.07,270.5 M354.19,283.63 L354.19,274.5 M356.32,283.63 L356.32,274.5 M358.44,283.84 L358.44,270.7 M360.57,284.28 L360.57,266.3 M362.69,285.35 L362.69,267.0 M364.81,286.28 L364.81,270.9 M366.94,287.19 L366.94,276.6 M369.06,288.10 L369.06,280.9 M371.19,288.91 L371.19,281.1 M373.31,289.66 L373.31,286.8 M375.43,290.40 L375.43,276.4 M377.56,291.14 L377.56,272.6 M379.68,291.89 L379.68,278.2 M381.80,292.54 L381.80,284.3 M383.93,293.18 L383.93,286.2 M386.05,293.82 L386.05,287.7 M388.18,294.45 L388.18,283.3 M390.30,295.06 L390.30,280.3 M392.42,295.48 L392.42,279.6 M394.55,295.91 L394.55,280.5 M396.67,296.33 L396.67,284.1 M398.79,296.76 L398.79,286.1 M400.92,297.06 L400.92,289.4 M403.04,297.20 L403.04,285.2 M405.17,297.34 L405.17,283.4 M407.29,297.49 L407.29,282.0 M409.41,297.63 L409.41,282.0 M411.54,297.77 L411.54,285.1 M413.66,297.91 L413.66,288.9 M415.78,298.05 L415.78,290.2 M417.91,298.19 L417.91,286.7 M420.03,298.34 L420.03,287.0 M422.15,298.48 L422.15,287.7 M424.28,298.62 L424.28,284.2 M426.40,298.76 L426.40,285.8 M428.53,298.90 L428.53,291.1 M430.65,299.03 L430.65,288.5 M432.77,299.14 L432.77,289.8 M434.90,299.24 L434.90,289.5 M437.02,299.35 L437.02,288.2 M439.14,299.46 L439.14,289.5 M441.27,299.56 L441.27,289.6 M443.39,299.67 L443.39,292.5 M445.52,299.78 L445.52,289.7 M447.64,299.88 L447.64,291.2 M449.76,299.99 L449.76,292.6 M451.89,300.09 L451.89,289.3 M454.01,300.20 L454.01,291.1 M456.13,300.31 L456.13,290.9 M458.26,300.41 L458.26,291.4 M460.38,300.51 L460.38,285.9 M462.51,300.55 L462.51,288.4 M464.63,300.59 L464.63,287.8 M466.75,300.63 L466.75,294.4 M468.88,300.68 L468.88,293.4 M471.00,300.72 L471.00,287.4 M473.12,300.76 L473.12,293.8 M475.25,300.80 L475.25,292.8 M477.37,300.84 L477.37,290.4 M479.50,300.89 L479.50,290.9 M481.62,300.93 L481.62,288.4 M483.74,300.97 L483.74,288.0 M485.87,301.01 L485.87,292.1 M487.99,301.05 L487.99,287.5 M490.12,301.10 L490.12,287.4 M492.24,301.14 L492.24,287.0 M494.36,301.18 L494.36,285.4 M496.49,301.22 L496.49,289.7 M498.61,301.26 L498.61,290.6 M500.73,301.31 L500.73,294.6 M502.86,301.35 L502.86,292.0 M504.98,301.39 L504.98,292.2 M507.11,301.43 L507.11,289.9 M509.23,301.47 L509.23,290.4 M511.35,301.52 L511.35,288.8 M513.48,301.56 L513.48,288.2 M515.60,301.60 L515.60,295.1 " stroke="#dc4050" stroke-width="0.9" fill="none"/>
<path d="M345.70,290.00 L345.98,291.53 L346.27,293.89 L346.55,296.26 L346.83,298.62 L347.12,299.45 L347.40,298.12 L347.69,296.80 L347.97,295.48 L348.25,294.15 L348.54,293.10 L348.82,293.85 L349.10,294.61 L349.39,295.37 L349.67,296.12 L349.95,296.88 L350.24,294.86 L350.52,292.30 L350.81,289.75 L351.09,287.64 L351.37,286.51 L351.66,285.37 L351.94,284.24 L352.22,283.96 L352.51,283.92 L352.79,283.87 L353.07,283.82 L353.36,283.77 L353.64,283.73 L353.93,283.68 L354.21,283.63 L354.49,283.58 L354.78,283.54 L355.06,283.51 L355.34,283.53 L355.63,283.56 L355.91,283.59 L356.19,283.62 L356.48,283.65 L356.76,283.68 L357.05,283.70 L357.33,283.73 L357.61,283.76 L357.90,283.79 L358.18,283.82 L358.46,283.85 L358.75,283.87 L359.03,283.90 L359.31,283.93 L359.60,283.96 L359.88,283.99 L360.17,284.08 L360.45,284.22 L360.73,284.37 L361.02,284.51 L361.30,284.65 L361.58,284.79 L361.87,284.93 L362.15,285.08 L362.43,285.22 L362.72,285.36 L363.00,285.50 L363.29,285.62 L363.57,285.74 L363.85,285.87 L364.14,285.99 L364.42,286.11 L364.70,286.23 L364.99,286.35 L365.27,286.47 L365.55,286.59 L365.84,286.72 L366.12,286.84 L366.41,286.96 L366.69,287.08 L366.97,287.20 L367.26,287.32 L367.54,287.45 L367.82,287.57 L368.11,287.69 L368.39,287.81 L368.67,287.93 L368.96,288.05 L369.24,288.18 L369.53,288.30 L369.81,288.42 L370.09,288.53 L370.38,288.63 L370.66,288.73 L370.94,288.83 L371.23,288.93 L371.51,289.03 L371.79,289.13 L372.08,289.23 L372.36,289.33 L372.65,289.43 L372.93,289.53 L373.21,289.62 L373.50,289.72 L373.78,289.82 L374.06,289.92 L374.35,290.02 L374.63,290.12 L374.91,290.22 L375.20,290.32 L375.48,290.42 L375.77,290.52 L376.05,290.62 L376.33,290.72 L376.62,290.82 L376.90,290.92 L377.18,291.01 L377.47,291.11 L377.75,291.21 L378.03,291.31 L378.32,291.41 L378.60,291.51 L378.89,291.61 L379.17,291.71 L379.45,291.81 L379.74,291.91 L380.02,292.01 L380.30,292.09 L380.59,292.18 L380.87,292.26 L381.15,292.35 L381.44,292.43 L381.72,292.52 L382.01,292.60 L382.29,292.69 L382.57,292.77 L382.86,292.86 L383.14,292.94 L383.42,293.03 L383.71,293.11 L383.99,293.20 L384.27,293.28 L384.56,293.37 L384.84,293.45 L385.13,293.54 L385.41,293.62 L385.69,293.71 L385.98,293.79 L386.26,293.88 L386.54,293.96 L386.83,294.05 L387.11,294.13 L387.39,294.22 L387.68,294.30 L387.96,294.39 L388.25,294.47 L388.53,294.56 L388.81,294.64 L389.10,294.73 L389.38,294.81 L389.66,294.90 L389.95,294.98 L390.23,295.05 L390.52,295.10 L390.80,295.16 L391.08,295.22 L391.37,295.27 L391.65,295.33 L391.93,295.39 L392.22,295.44 L392.50,295.50 L392.78,295.56 L393.07,295.61 L393.35,295.67 L393.64,295.73 L393.92,295.78 L394.20,295.84 L394.49,295.90 L394.77,295.95 L395.05,296.01 L395.34,296.07 L395.62,296.12 L395.90,296.18 L396.19,296.24 L396.47,296.29 L396.76,296.35 L397.04,296.41 L397.32,296.46 L397.61,296.52 L397.89,296.58 L398.17,296.63 L398.46,296.69 L398.74,296.75 L399.02,296.80 L399.31,296.86 L399.59,296.92 L399.88,296.98 L400.16,297.01 L400.44,297.03 L400.73,297.05 L401.01,297.07 L401.29,297.09 L401.58,297.11 L401.86,297.12 L402.14,297.14 L402.43,297.16 L402.71,297.18 L403.00,297.20 L403.28,297.22 L403.56,297.24 L403.85,297.26 L404.13,297.28 L404.41,297.29 L404.70,297.31 L404.98,297.33 L405.26,297.35 L405.55,297.37 L405.83,297.39 L406.12,297.41 L406.40,297.43 L406.68,297.45 L406.97,297.46 L407.25,297.48 L407.53,297.50 L407.82,297.52 L408.10,297.54 L408.38,297.56 L408.67,297.58 L408.95,297.60 L409.24,297.62 L409.52,297.63 L409.80,297.65 L410.09,297.67 L410.37,297.69 L410.65,297.71 L410.94,297.73 L411.22,297.75 L411.50,297.77 L411.79,297.79 L412.07,297.80 L412.36,297.82 L412.64,297.84 L412.92,297.86 L413.21,297.88 L413.49,297.90 L413.77,297.92 L414.06,297.94 L414.34,297.96 L414.62,297.97 L414.91,297.99 L415.19,298.01 L415.48,298.03 L415.76,298.05 L416.04,298.07 L416.33,298.09 L416.61,298.11 L416.89,298.13 L417.18,298.15 L417.46,298.16 L417.74,298.18 L418.03,298.20 L418.31,298.22 L418.60,298.24 L418.88,298.26 L419.16,298.28 L419.45,298.30 L419.73,298.32 L420.01,298.33 L420.30,298.35 L420.58,298.37 L420.86,298.39 L421.15,298.41 L421.43,298.43 L421.72,298.45 L422.00,298.47 L422.28,298.49 L422.57,298.50 L422.85,298.52 L423.13,298.54 L423.42,298.56 L423.70,298.58 L423.98,298.60 L424.27,298.62 L424.55,298.64 L424.84,298.66 L425.12,298.67 L425.40,298.69 L425.69,298.71 L425.97,298.73 L426.25,298.75 L426.54,298.77 L426.82,298.79 L427.10,298.81 L427.39,298.83 L427.67,298.84 L427.96,298.86 L428.24,298.88 L428.52,298.90 L428.81,298.92 L429.09,298.94 L429.37,298.96 L429.66,298.98 L429.94,299.00 L430.22,299.01 L430.51,299.03 L430.79,299.04 L431.08,299.05 L431.36,299.07 L431.64,299.08 L431.93,299.10 L432.21,299.11 L432.49,299.12 L432.78,299.14 L433.06,299.15 L433.34,299.17 L433.63,299.18 L433.91,299.20 L434.20,299.21 L434.48,299.22 L434.76,299.24 L435.05,299.25 L435.33,299.27 L435.61,299.28 L435.90,299.29 L436.18,299.31 L436.46,299.32 L436.75,299.34 L437.03,299.35 L437.32,299.37 L437.60,299.38 L437.88,299.39 L438.17,299.41 L438.45,299.42 L438.73,299.44 L439.02,299.45 L439.30,299.47 L439.58,299.48 L439.87,299.49 L440.15,299.51 L440.44,299.52 L440.72,299.54 L441.00,299.55 L441.29,299.56 L441.57,299.58 L441.85,299.59 L442.14,299.61 L442.42,299.62 L442.70,299.64 L442.99,299.65 L443.27,299.66 L443.56,299.68 L443.84,299.69 L444.12,299.71 L444.41,299.72 L444.69,299.73 L444.97,299.75 L445.26,299.76 L445.54,299.78 L445.82,299.79 L446.11,299.81 L446.39,299.82 L446.68,299.83 L446.96,299.85 L447.24,299.86 L447.53,299.88 L447.81,299.89 L448.09,299.90 L448.38,299.92 L448.66,299.93 L448.94,299.95 L449.23,299.96 L449.51,299.98 L449.80,299.99 L450.08,300.00 L450.36,300.02 L450.65,300.03 L450.93,300.05 L451.21,300.06 L451.50,300.07 L451.78,300.09 L452.06,300.10 L452.35,300.12 L452.63,300.13 L452.92,300.15 L453.20,300.16 L453.48,300.17 L453.77,300.19 L454.05,300.20 L454.33,300.22 L454.62,300.23 L454.90,300.25 L455.18,300.26 L455.47,300.27 L455.75,300.29 L456.04,300.30 L456.32,300.32 L456.60,300.33 L456.89,300.34 L457.17,300.36 L457.45,300.37 L457.74,300.39 L458.02,300.40 L458.30,300.42 L458.59,300.43 L458.87,300.44 L459.16,300.46 L459.44,300.47 L459.72,300.49 L460.01,300.50 L460.29,300.51 L460.57,300.51 L460.86,300.52 L461.14,300.52 L461.42,300.53 L461.71,300.53 L461.99,300.54 L462.28,300.55 L462.56,300.55 L462.84,300.56 L463.13,300.56 L463.41,300.57 L463.69,300.57 L463.98,300.58 L464.26,300.58 L464.54,300.59 L464.83,300.60 L465.11,300.60 L465.40,300.61 L465.68,300.61 L465.96,300.62 L466.25,300.62 L466.53,300.63 L466.81,300.63 L467.10,300.64 L467.38,300.65 L467.66,300.65 L467.95,300.66 L468.23,300.66 L468.52,300.67 L468.80,300.67 L469.08,300.68 L469.37,300.69 L469.65,300.69 L469.93,300.70 L470.22,300.70 L470.50,300.71 L470.78,300.71 L471.07,300.72 L471.35,300.72 L471.64,300.73 L471.92,300.74 L472.20,300.74 L472.49,300.75 L472.77,300.75 L473.05,300.76 L473.34,300.76 L473.62,300.77 L473.91,300.78 L474.19,300.78 L474.47,300.79 L474.76,300.79 L475.04,300.80 L475.32,300.80 L475.61,300.81 L475.89,300.81 L476.17,300.82 L476.46,300.83 L476.74,300.83 L477.03,300.84 L477.31,300.84 L477.59,300.85 L477.88,300.85 L478.16,300.86 L478.44,300.86 L478.73,300.87 L479.01,300.88 L479.29,300.88 L479.58,300.89 L479.86,300.89 L480.15,300.90 L480.43,300.90 L480.71,300.91 L481.00,300.92 L481.28,300.92 L481.56,300.93 L481.85,300.93 L482.13,300.94 L482.41,300.94 L482.70,300.95 L482.98,300.95 L483.27,300.96 L483.55,300.97 L483.83,300.97 L484.12,300.98 L484.40,300.98 L484.68,300.99 L484.97,300.99 L485.25,301.00 L485.53,301.01 L485.82,301.01 L486.10,301.02 L486.39,301.02 L486.67,301.03 L486.95,301.03 L487.24,301.04 L487.52,301.04 L487.80,301.05 L488.09,301.06 L488.37,301.06 L488.65,301.07 L488.94,301.07 L489.22,301.08 L489.51,301.08 L489.79,301.09 L490.07,301.09 L490.36,301.10 L490.64,301.11 L490.92,301.11 L491.21,301.12 L491.49,301.12 L491.77,301.13 L492.06,301.13 L492.34,301.14 L492.63,301.15 L492.91,301.15 L493.19,301.16 L493.48,301.16 L493.76,301.17 L494.04,301.17 L494.33,301.18 L494.61,301.18 L494.89,301.19 L495.18,301.20 L495.46,301.20 L495.75,301.21 L496.03,301.21 L496.31,301.22 L496.60,301.22 L496.88,301.23 L497.16,301.24 L497.45,301.24 L497.73,301.25 L498.01,301.25 L498.30,301.26 L498.58,301.26 L498.87,301.27 L499.15,301.27 L499.43,301.28 L499.72,301.29 L500.00,301.29 L500.28,301.30 L500.57,301.30 L500.85,301.31 L501.13,301.31 L501.42,301.32 L501.70,301.33 L501.99,301.33 L502.27,301.34 L502.55,301.34 L502.84,301.35 L503.12,301.35 L503.40,301.36 L503.69,301.36 L503.97,301.37 L504.25,301.38 L504.54,301.38 L504.82,301.39 L505.11,301.39 L505.39,301.40 L505.67,301.40 L505.96,301.41 L506.24,301.41 L506.52,301.42 L506.81,301.43 L507.09,301.43 L507.37,301.44 L507.66,301.44 L507.94,301.45 L508.23,301.45 L508.51,301.46 L508.79,301.47 L509.08,301.47 L509.36,301.48 L509.64,301.48 L509.93,301.49 L510.21,301.49 L510.49,301.50 L510.78,301.50 L511.06,301.51 L511.35,301.52 L511.63,301.52 L511.91,301.53 L512.20,301.53 L512.48,301.54 L512.76,301.54 L513.05,301.55 L513.33,301.56 L513.61,301.56 L513.90,301.57 L514.18,301.57 L514.47,301.58 L514.75,301.58 L515.03,301.59 L515.32,301.59 L515.60,301.60" stroke="#d82828" stroke-width="1.1" fill="none"/>
<line x1="346.09999999999997" y1="174.0" x2="346.09999999999997" y2="147.6" stroke="#5ad05a" stroke-width="1"/>
<line x1="346.09999999999997" y1="212.5" x2="346.09999999999997" y2="185.7" stroke="#3030c0" stroke-width="1"/>
<line x1="346.09999999999997" y1="249.0" x2="346.09999999999997" y2="226" stroke="#cc4ccc" stroke-width="1"/>
<rect x="345.7" y="147.5" width="169.90000000000003" height="38.099999999999994" fill="none" stroke="#6a6a6a" stroke-width="0.9"/>
<line x1="379.7" y1="185.6" x2="379.7" y2="183.79999999999998" stroke="#555" stroke-width="0.6"/><line x1="379.7" y1="147.5" x2="379.7" y2="149.3" stroke="#555" stroke-width="0.6"/>
<line x1="413.7" y1="185.6" x2="413.7" y2="183.79999999999998" stroke="#555" stroke-width="0.6"/><line x1="413.7" y1="147.5" x2="413.7" y2="149.3" stroke="#555" stroke-width="0.6"/>
<line x1="447.6" y1="185.6" x2="447.6" y2="183.79999999999998" stroke="#555" stroke-width="0.6"/><line x1="447.6" y1="147.5" x2="447.6" y2="149.3" stroke="#555" stroke-width="0.6"/>
<line x1="481.6" y1="185.6" x2="481.6" y2="183.79999999999998" stroke="#555" stroke-width="0.6"/><line x1="481.6" y1="147.5" x2="481.6" y2="149.3" stroke="#555" stroke-width="0.6"/>
<rect x="345.7" y="185.6" width="169.90000000000003" height="40.30000000000001" fill="none" stroke="#6a6a6a" stroke-width="0.9"/>
<line x1="379.7" y1="225.9" x2="379.7" y2="224.1" stroke="#555" stroke-width="0.6"/><line x1="379.7" y1="185.6" x2="379.7" y2="187.4" stroke="#555" stroke-width="0.6"/>
<line x1="413.7" y1="225.9" x2="413.7" y2="224.1" stroke="#555" stroke-width="0.6"/><line x1="413.7" y1="185.6" x2="413.7" y2="187.4" stroke="#555" stroke-width="0.6"/>
<line x1="447.6" y1="225.9" x2="447.6" y2="224.1" stroke="#555" stroke-width="0.6"/><line x1="447.6" y1="185.6" x2="447.6" y2="187.4" stroke="#555" stroke-width="0.6"/>
<line x1="481.6" y1="225.9" x2="481.6" y2="224.1" stroke="#555" stroke-width="0.6"/><line x1="481.6" y1="185.6" x2="481.6" y2="187.4" stroke="#555" stroke-width="0.6"/>
<rect x="345.7" y="225.9" width="169.90000000000003" height="40.20000000000002" fill="none" stroke="#6a6a6a" stroke-width="0.9"/>
<line x1="379.7" y1="266.1" x2="379.7" y2="264.3" stroke="#555" stroke-width="0.6"/><line x1="379.7" y1="225.9" x2="379.7" y2="227.70000000000002" stroke="#555" stroke-width="0.6"/>
<line x1="413.7" y1="266.1" x2="413.7" y2="264.3" stroke="#555" stroke-width="0.6"/><line x1="413.7" y1="225.9" x2="413.7" y2="227.70000000000002" stroke="#555" stroke-width="0.6"/>
<line x1="447.6" y1="266.1" x2="447.6" y2="264.3" stroke="#555" stroke-width="0.6"/><line x1="447.6" y1="225.9" x2="447.6" y2="227.70000000000002" stroke="#555" stroke-width="0.6"/>
<line x1="481.6" y1="266.1" x2="481.6" y2="264.3" stroke="#555" stroke-width="0.6"/><line x1="481.6" y1="225.9" x2="481.6" y2="227.70000000000002" stroke="#555" stroke-width="0.6"/>
<rect x="345.7" y="266.1" width="169.90000000000003" height="37.69999999999999" fill="none" stroke="#6a6a6a" stroke-width="0.9"/>
<line x1="379.7" y1="303.8" x2="379.7" y2="302.0" stroke="#555" stroke-width="0.6"/><line x1="379.7" y1="266.1" x2="379.7" y2="267.90000000000003" stroke="#555" stroke-width="0.6"/>
<line x1="413.7" y1="303.8" x2="413.7" y2="302.0" stroke="#555" stroke-width="0.6"/><line x1="413.7" y1="266.1" x2="413.7" y2="267.90000000000003" stroke="#555" stroke-width="0.6"/>
<line x1="447.6" y1="303.8" x2="447.6" y2="302.0" stroke="#555" stroke-width="0.6"/><line x1="447.6" y1="266.1" x2="447.6" y2="267.90000000000003" stroke="#555" stroke-width="0.6"/>
<line x1="481.6" y1="303.8" x2="481.6" y2="302.0" stroke="#555" stroke-width="0.6"/><line x1="481.6" y1="266.1" x2="481.6" y2="267.90000000000003" stroke="#555" stroke-width="0.6"/>
<text x="344" y="150" style="font-family:'Liberation Sans',sans-serif;font-size:5.5px;fill:#444;" text-anchor="end">14</text>
<text x="344" y="210.8" style="font-family:'Liberation Sans',sans-serif;font-size:5.5px;fill:#444;" text-anchor="end">12</text>
<text x="344" y="251.8" style="font-family:'Liberation Sans',sans-serif;font-size:5.5px;fill:#444;" text-anchor="end">12</text>
<text x="344" y="301.7" style="font-family:'Liberation Sans',sans-serif;font-size:5.5px;fill:#444;" text-anchor="end">11</text>
<text x="345.7" y="312.5" style="font-family:'Liberation Sans',sans-serif;font-size:5.5px;fill:#444;" text-anchor="middle">0</text>
<text x="379.68" y="312.5" style="font-family:'Liberation Sans',sans-serif;font-size:5.5px;fill:#444;" text-anchor="middle">2</text>
<text x="413.65999999999997" y="312.5" style="font-family:'Liberation Sans',sans-serif;font-size:5.5px;fill:#444;" text-anchor="middle">4</text>
<text x="447.64" y="312.5" style="font-family:'Liberation Sans',sans-serif;font-size:5.5px;fill:#444;" text-anchor="middle">6</text>
<text x="481.62" y="312.5" style="font-family:'Liberation Sans',sans-serif;font-size:5.5px;fill:#444;" text-anchor="middle">8</text>
<text x="515.6" y="312.5" style="font-family:'Liberation Sans',sans-serif;font-size:5.5px;fill:#444;" text-anchor="middle">10</text>
<text transform="translate(330.6,231.7) rotate(-90)" text-anchor="middle" style="font-family:'Liberation Sans',sans-serif;font-size:5px;fill:#444">log<tspan font-size="3.5" dy="1">10</tspan><tspan dy="-1">S(ω)</tspan></text>
<text x="424" y="320.6" style="font-family:'Liberation Sans',sans-serif;font-size:6.4px;fill:#444;" text-anchor="start">ω/γ<tspan font-size="4" dy="1.2">m</tspan></text>
<text x="513.8" y="157.8" style="font-family:'Liberation Sans',sans-serif;font-size:6.6px;fill:#2a2a2a;stroke:#2a2a2a;stroke-width:0.25" text-anchor="end">(a)</text>
<text x="513.8" y="197" style="font-family:'Liberation Sans',sans-serif;font-size:6.6px;fill:#2a2a2a;stroke:#2a2a2a;stroke-width:0.25" text-anchor="end">(b)</text>
<text x="513.8" y="237.3" style="font-family:'Liberation Sans',sans-serif;font-size:6.6px;fill:#2a2a2a;stroke:#2a2a2a;stroke-width:0.25" text-anchor="end">(c)</text>
<text x="513.8" y="278" style="font-family:'Liberation Sans',sans-serif;font-size:6.6px;fill:#2a2a2a;stroke:#2a2a2a;stroke-width:0.25" text-anchor="end">(d)</text>
<rect x="433" y="150.6" width="11.6" height="13.4" fill="#22e8ee"/>
<text x="434.5" y="159" style="font-family:'Liberation Sans',sans-serif;font-size:4px;fill:#333;" text-anchor="start">γ<tspan font-size="3" dy="1">m</tspan></text>
<rect x="425.8" y="189.6" width="15.2" height="9.2" fill="#22e8ee"/>
<text x="427" y="195.5" style="font-family:'Liberation Sans',sans-serif;font-size:4px;fill:#333;" text-anchor="start">0.5 γ<tspan font-size="3" dy="1">m</tspan></text>
<rect x="419.2" y="230.5" width="17.8" height="9.3" fill="#22e8ee"/>
<text x="420.5" y="236.5" style="font-family:'Liberation Sans',sans-serif;font-size:4px;fill:#333;" text-anchor="start">0.38 γ<tspan font-size="3" dy="1">m</tspan></text>
<rect x="408" y="269" width="21.6" height="8.5" fill="#22e8ee"/>
<text x="409.5" y="274.8" style="font-family:'Liberation Sans',sans-serif;font-size:4px;fill:#333;" text-anchor="start">0.125 γ<tspan font-size="3" dy="1">m</tspan></text>
<line x1="432.5" y1="171.7" x2="446.5" y2="171.7" stroke="#111" stroke-width="0.9"/><path d="M431,171.7 L433,170.39999999999998 L433,173.0Z M448,171.7 L446,170.39999999999998 L446,173.0Z" fill="#111"/>
<line x1="432.5" y1="209.4" x2="437.5" y2="209.4" stroke="#111" stroke-width="0.9"/><path d="M431,209.4 L433,208.1 L433,210.70000000000002Z M439,209.4 L437,208.1 L437,210.70000000000002Z" fill="#111"/>
<line x1="432.8" y1="250.8" x2="433.4" y2="250.8" stroke="#111" stroke-width="0.9"/><path d="M431.3,250.8 L433.3,249.5 L433.3,252.10000000000002Z M434.9,250.8 L432.9,249.5 L432.9,252.10000000000002Z" fill="#111"/>
<line x1="428" y1="280" x2="432" y2="290" stroke="#111" stroke-width="0.8"/></svg>
</body></html>
